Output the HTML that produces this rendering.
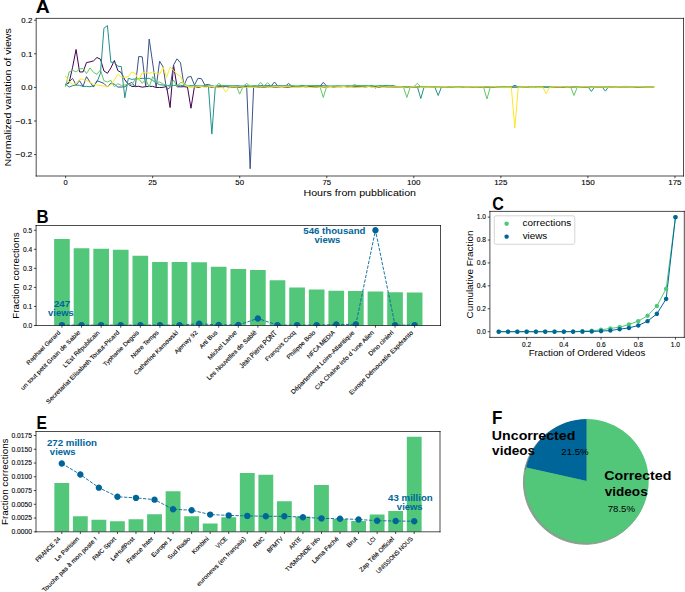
<!DOCTYPE html>
<html><head><meta charset="utf-8"><style>html,body{margin:0;padding:0;background:#fff;}body{width:685px;height:592px;overflow:hidden;}</style></head><body>
<svg width="685" height="592" viewBox="0 0 685 592" style="display:block">
 
 <defs>
  <style type="text/css">*{stroke-linejoin: round; stroke-linecap: butt}</style>
 </defs>
 <g id="figure_1">
  <g id="patch_1">
   <path d="M 0 592 
L 685 592 
L 685 0 
L 0 0 
z
" style="fill: #ffffff"/>
  </g>
  <g id="axes_1">
   <g id="patch_2">
    <path d="M 36.2 176 
L 683.5 176 
L 683.5 18.4 
L 36.2 18.4 
z
" style="fill: #ffffff"/>
   </g>
   <g id="matplotlib.axis_1">
    <g id="xtick_1">
     <g id="line2d_1">
      <defs>
       <path id="m24d7ac94f8" d="M 0 0 
L 0 2.2 
" style="stroke: #000000; stroke-width: 0.7"/>
      </defs>
      <g>
       <use href="#m24d7ac94f8" x="65.622727" y="176" style="stroke: #000000; stroke-width: 0.7"/>
      </g>
     </g>
     <g id="text_1">
      <text transform="translate(65.623 185.271) matrix(1.0412 0 0 1.1165 -2.085 0.028)" style="font-size:7.20px;font-family:'Liberation Sans',sans-serif;fill:#000000;stroke:#000000;stroke-width:0.1">0</text>
     </g>
    </g>
    <g id="xtick_2">
     <g id="line2d_2">
      <g>
       <use href="#m24d7ac94f8" x="152.672216" y="176" style="stroke: #000000; stroke-width: 0.7"/>
      </g>
     </g>
     <g id="text_2">
      <text transform="translate(152.672 185.271) matrix(1.0931 0 0 1.1165 -4.471 0.028)" style="font-size:7.20px;font-family:'Liberation Sans',sans-serif;fill:#000000;stroke:#000000;stroke-width:0.1">25</text>
     </g>
    </g>
    <g id="xtick_3">
     <g id="line2d_3">
      <g>
       <use href="#m24d7ac94f8" x="239.721705" y="176" style="stroke: #000000; stroke-width: 0.7"/>
      </g>
     </g>
     <g id="text_3">
      <text transform="translate(239.722 185.271) matrix(1.0918 0 0 1.1165 -4.355 0.028)" style="font-size:7.20px;font-family:'Liberation Sans',sans-serif;fill:#000000;stroke:#000000;stroke-width:0.1">50</text>
     </g>
    </g>
    <g id="xtick_4">
     <g id="line2d_4">
      <g>
       <use href="#m24d7ac94f8" x="326.771194" y="176" style="stroke: #000000; stroke-width: 0.7"/>
      </g>
     </g>
     <g id="text_4">
      <text transform="translate(326.771 185.271) matrix(1.0833 0 0 1.1175 -4.395 0.028)" style="font-size:7.20px;font-family:'Liberation Sans',sans-serif;fill:#000000;stroke:#000000;stroke-width:0.1">75</text>
     </g>
    </g>
    <g id="xtick_5">
     <g id="line2d_5">
      <g>
       <use href="#m24d7ac94f8" x="413.820683" y="176" style="stroke: #000000; stroke-width: 0.7"/>
      </g>
     </g>
     <g id="text_5">
      <text transform="translate(413.821 185.271) matrix(1.1190 0 0 1.1165 -6.720 0.028)" style="font-size:7.20px;font-family:'Liberation Sans',sans-serif;fill:#000000;stroke:#000000;stroke-width:0.1">100</text>
     </g>
    </g>
    <g id="xtick_6">
     <g id="line2d_6">
      <g>
       <use href="#m24d7ac94f8" x="500.870172" y="176" style="stroke: #000000; stroke-width: 0.7"/>
      </g>
     </g>
     <g id="text_6">
      <text transform="translate(500.870 185.271) matrix(1.1097 0 0 1.1165 -6.715 0.028)" style="font-size:7.20px;font-family:'Liberation Sans',sans-serif;fill:#000000;stroke:#000000;stroke-width:0.1">125</text>
     </g>
    </g>
    <g id="xtick_7">
     <g id="line2d_7">
      <g>
       <use href="#m24d7ac94f8" x="587.919661" y="176" style="stroke: #000000; stroke-width: 0.7"/>
      </g>
     </g>
     <g id="text_7">
      <text transform="translate(587.920 185.271) matrix(1.1190 0 0 1.1165 -6.720 0.028)" style="font-size:7.20px;font-family:'Liberation Sans',sans-serif;fill:#000000;stroke:#000000;stroke-width:0.1">150</text>
     </g>
    </g>
    <g id="xtick_8">
     <g id="line2d_8">
      <g>
       <use href="#m24d7ac94f8" x="674.96915" y="176" style="stroke: #000000; stroke-width: 0.7"/>
      </g>
     </g>
     <g id="text_8">
      <text transform="translate(674.969 185.271) matrix(1.1097 0 0 1.1175 -6.715 0.028)" style="font-size:7.20px;font-family:'Liberation Sans',sans-serif;fill:#000000;stroke:#000000;stroke-width:0.1">175</text>
     </g>
    </g>
    <g id="text_9">
     <text transform="translate(359.850 195.873) matrix(1.1406 0 0 1.0374 -56.367 -0.074)" style="font-size:9.35px;font-family:'Liberation Sans',sans-serif;fill:#000000">Hours from pubblication</text>
    </g>
   </g>
   <g id="matplotlib.axis_2">
    <g id="ytick_1">
     <g id="line2d_9">
      <defs>
       <path id="m9cc13eb9c5" d="M 0 0 
L -2.2 0 
" style="stroke: #000000; stroke-width: 0.7"/>
      </defs>
      <g>
       <use href="#m9cc13eb9c5" x="36.2" y="154.59919" style="stroke: #000000; stroke-width: 0.7"/>
      </g>
     </g>
     <g id="text_10">
      <text transform="translate(32.600 157.335) matrix(1.1804 0 0 1.1165 -17.110 0.028)" style="font-size:7.20px;font-family:'Liberation Sans',sans-serif;fill:#000000;stroke:#000000;stroke-width:0.1">−0.2</text>
     </g>
    </g>
    <g id="ytick_2">
     <g id="line2d_10">
      <g>
       <use href="#m9cc13eb9c5" x="36.2" y="121.002942" style="stroke: #000000; stroke-width: 0.7"/>
      </g>
     </g>
     <g id="text_11">
      <text transform="translate(32.600 123.738) matrix(1.1830 0 0 1.1165 -17.111 0.028)" style="font-size:7.20px;font-family:'Liberation Sans',sans-serif;fill:#000000;stroke:#000000;stroke-width:0.1">−0.1</text>
     </g>
    </g>
    <g id="ytick_3">
     <g id="line2d_11">
      <g>
       <use href="#m9cc13eb9c5" x="36.2" y="87.406694" style="stroke: #000000; stroke-width: 0.7"/>
      </g>
     </g>
     <g id="text_12">
      <text transform="translate(32.600 90.142) matrix(1.1061 0 0 1.1165 -11.262 0.028)" style="font-size:7.20px;font-family:'Liberation Sans',sans-serif;fill:#000000;stroke:#000000;stroke-width:0.1">0.0</text>
     </g>
    </g>
    <g id="ytick_4">
     <g id="line2d_12">
      <g>
       <use href="#m9cc13eb9c5" x="36.2" y="53.810446" style="stroke: #000000; stroke-width: 0.7"/>
      </g>
     </g>
     <g id="text_13">
      <text transform="translate(32.600 56.546) matrix(1.0954 0 0 1.1165 -11.259 0.028)" style="font-size:7.20px;font-family:'Liberation Sans',sans-serif;fill:#000000;stroke:#000000;stroke-width:0.1">0.1</text>
     </g>
    </g>
    <g id="ytick_5">
     <g id="line2d_13">
      <g>
       <use href="#m9cc13eb9c5" x="36.2" y="20.214197" style="stroke: #000000; stroke-width: 0.7"/>
      </g>
     </g>
     <g id="text_14">
      <text transform="translate(32.600 22.950) matrix(1.0916 0 0 1.1165 -11.258 0.028)" style="font-size:7.20px;font-family:'Liberation Sans',sans-serif;fill:#000000;stroke:#000000;stroke-width:0.1">0.2</text>
     </g>
    </g>
    <g id="text_15">
     <text transform="translate(11.172 97.200) rotate(-90) matrix(1.1400 0 0 1.0544 -69.314 0.042)" style="font-size:9.35px;font-family:'Liberation Sans',sans-serif;fill:#000000">Normalized variation of views</text>
    </g>
   </g>
   <g id="line2d_14">
    <path d="M 65.622727 84.718994 
L 69.104707 82.703219 
L 72.586686 67.248945 
L 76.068666 49.442933 
L 79.550646 71.95242 
L 83.032625 71.95242 
L 86.514605 62.54547 
L 89.996584 61.873545 
L 93.478564 60.865658 
L 96.960543 57.506033 
L 100.442523 59.185845 
L 103.924502 70.944532 
L 107.406482 73.296269 
L 110.888462 67.92087 
L 114.370441 60.529695 
L 117.852421 70.60857 
L 121.3344 72.624344 
L 124.81638 79.847538 
L 128.298359 84.21505 
L 131.780339 86.398806 
L 135.262318 86.498594 
L 138.744298 86.273477 
L 142.226278 87.15348 
L 145.708257 86.644297 
L 149.190237 86.396939 
L 152.672216 86.372458 
L 156.154196 87.460388 
L 159.636175 87.522191 
L 163.118155 87.346448 
L 166.600134 86.394583 
L 170.082114 107.564443 
L 173.564094 65.23317 
L 177.046073 86.734769 
L 180.528053 86.858181 
L 184.010032 86.644896 
L 187.492012 87.150669 
L 190.973991 108.236368 
L 194.455971 86.453063 
L 197.937951 87.550098 
L 201.41993 86.566594 
L 204.90191 86.245794 
L 208.383889 86.569253 
L 211.865869 87.1978 
L 215.347848 86.514002 
L 218.829828 87.435955 
L 225.793787 86.518386 
L 229.275767 87.096896 
L 232.757746 87.102389 
L 239.721705 87.354879 
L 243.203685 86.73452 
L 246.685664 87.17402 
L 250.167644 87.123299 
L 253.649623 86.910677 
L 257.131603 87.3229 
L 260.613583 86.833028 
L 264.095562 87.235071 
L 267.577542 86.818741 
L 271.059521 86.714838 
L 274.541501 87.276832 
L 281.50546 86.719879 
L 288.469419 87.326106 
L 291.951399 86.868982 
L 295.433378 86.748669 
L 298.915358 86.888744 
L 302.397337 86.484522 
L 305.879317 86.821328 
L 309.361296 86.523272 
L 312.843276 87.243776 
L 316.325256 87.242081 
L 319.807235 86.613589 
L 323.289215 86.999005 
L 326.771194 87.21755 
L 330.253174 86.500595 
L 333.735153 87.045956 
L 337.217133 86.666812 
L 340.699112 86.690155 
L 344.181092 86.542176 
L 347.663072 86.786412 
L 351.145051 86.66669 
L 354.627031 87.044891 
L 358.10901 87.119178 
L 361.59099 86.530342 
L 365.072969 86.970394 
L 368.554949 86.465477 
L 372.036928 86.749001 
L 375.518908 86.788271 
L 379.000888 87.265156 
L 382.482867 86.479918 
L 385.964847 86.949867 
L 389.446826 86.829009 
L 396.410785 87.079321 
L 399.892765 86.810678 
L 406.856724 87.173722 
L 410.338704 86.926075 
L 413.820683 87.043191 
L 420.784642 86.817708 
L 424.266622 87.030844 
L 427.748601 86.808599 
L 431.230581 86.923569 
L 434.712561 87.168501 
L 438.19454 86.800172 
L 441.67652 86.896341 
L 445.158499 86.772804 
L 448.640479 87.1054 
L 452.122458 87.119593 
L 455.604438 86.798899 
L 459.086417 86.893954 
L 462.568397 87.148271 
L 466.050377 86.870311 
L 476.496315 86.888025 
L 479.978295 87.124779 
L 490.424233 87.163468 
L 493.906213 87.075618 
L 497.388193 86.828155 
L 500.870172 86.957647 
L 507.834131 86.835411 
L 511.316111 87.124818 
L 518.28007 86.938728 
L 521.762049 86.783982 
L 528.726009 87.167362 
L 532.207988 86.852101 
L 535.689968 87.080955 
L 539.171947 86.849491 
L 542.653927 87.018512 
L 546.135906 86.826738 
L 553.099866 86.950629 
L 556.581845 87.119867 
L 567.027784 87.156918 
L 573.991743 87.083884 
L 577.473722 86.887435 
L 580.955702 86.949227 
L 584.437682 87.169818 
L 587.919661 87.145863 
L 591.401641 86.784917 
L 598.3656 87.092921 
L 601.847579 87.073153 
L 605.329559 86.875002 
L 608.811538 87.096091 
L 615.775498 86.783811 
L 619.257477 86.833476 
L 622.739457 87.078184 
L 633.185395 86.840672 
L 636.667375 87.111668 
L 643.631334 87.14665 
L 647.113314 86.978807 
L 654.077273 86.945544 
L 654.077273 86.945544 
" clip-path="url(#p6a6dacb804)" style="fill: none; stroke: #440154; stroke-linecap: square"/>
   </g>
   <g id="line2d_15">
    <path d="M 65.622727 84.718994 
L 69.104707 82.031294 
L 72.586686 78.335707 
L 76.068666 85.054956 
L 79.550646 80.687444 
L 83.032625 86.398806 
L 86.514605 76.655894 
L 89.996584 82.031294 
L 93.478564 87.070731 
L 96.960543 80.687444 
L 103.924502 83.375144 
L 107.406482 87.070731 
L 110.888462 83.039181 
L 114.370441 84.21505 
L 117.852421 87.070731 
L 121.3344 87.070731 
L 124.81638 86.734769 
L 128.298359 84.21505 
L 131.780339 82.367256 
L 135.262318 87.070731 
L 138.744298 56.498145 
L 142.226278 56.834108 
L 145.708257 86.734769 
L 149.190237 39.028096 
L 156.154196 87.070731 
L 159.636175 61.20162 
L 163.118155 66.912982 
L 166.600134 89.758431 
L 170.082114 87.406694 
L 173.564094 64.897207 
L 177.046073 58.849883 
L 180.528053 62.881433 
L 184.010032 85.390919 
L 187.492012 77.327819 
L 190.973991 76.319932 
L 194.455971 85.054956 
L 197.937951 78.335707 
L 201.41993 78.671669 
L 204.90191 85.054956 
L 208.383889 84.383031 
L 211.865869 85.87535 
L 215.347848 86.611654 
L 218.829828 86.308575 
L 222.311807 86.466963 
L 225.793787 86.458308 
L 229.275767 86.138648 
L 232.757746 86.365314 
L 236.239726 85.971973 
L 243.203685 86.791927 
L 246.685664 86.524537 
L 250.167644 168.709614 
L 253.649623 86.486973 
L 257.131603 86.843565 
L 260.613583 86.636635 
L 264.095562 86.805991 
L 267.577542 85.934242 
L 271.059521 85.956134 
L 274.541501 82.031294 
L 278.02348 86.303027 
L 281.50546 86.14956 
L 284.987439 86.709964 
L 288.469419 83.375144 
L 291.951399 86.376167 
L 295.433378 86.533679 
L 298.915358 86.826184 
L 302.397337 85.944306 
L 305.879317 86.453973 
L 309.361296 86.395043 
L 316.325256 86.624813 
L 319.807235 86.505208 
L 323.289215 82.367256 
L 326.771194 86.176099 
L 333.735153 86.856908 
L 337.217133 86.119039 
L 340.699112 86.615741 
L 344.181092 86.321025 
L 347.663072 86.845118 
L 351.145051 86.246224 
L 354.627031 86.504612 
L 358.10901 86.401559 
L 365.072969 86.53909 
L 368.554949 86.350852 
L 372.036928 85.953942 
L 375.518908 86.763066 
L 379.000888 86.574473 
L 382.482867 86.829835 
L 385.964847 86.174545 
L 389.446826 86.250635 
L 392.928806 86.667247 
L 396.410785 86.85568 
L 403.374744 86.757017 
L 406.856724 86.954968 
L 410.338704 86.668254 
L 413.820683 86.710039 
L 417.302663 86.969692 
L 420.784642 86.673388 
L 434.712561 86.934665 
L 438.19454 86.653415 
L 445.158499 86.884109 
L 448.640479 86.917353 
L 452.122458 86.655247 
L 455.604438 86.854478 
L 466.050377 86.69059 
L 473.014336 86.952454 
L 476.496315 86.785328 
L 483.460274 86.802805 
L 486.942254 86.741681 
L 490.424233 86.924596 
L 504.352152 87.019564 
L 507.834131 86.769967 
L 511.316111 86.904696 
L 514.79809 85.390919 
L 518.28007 86.985281 
L 525.244029 86.937049 
L 535.689968 86.802164 
L 542.653927 86.625174 
L 546.135906 87.003995 
L 553.099866 86.764342 
L 556.581845 86.9586 
L 560.063825 86.672893 
L 563.545804 86.93605 
L 567.027784 86.724654 
L 573.991743 86.701622 
L 577.473722 87.011099 
L 580.955702 86.931143 
L 584.437682 86.739622 
L 587.919661 86.988395 
L 591.401641 87.011364 
L 598.3656 86.785923 
L 601.847579 87.002643 
L 608.811538 87.006159 
L 615.775498 86.754217 
L 619.257477 86.943861 
L 622.739457 86.670425 
L 626.221436 86.849377 
L 629.703416 86.773885 
L 633.185395 86.906609 
L 640.149354 86.639224 
L 647.113314 86.940223 
L 654.077273 86.844464 
L 654.077273 86.844464 
" clip-path="url(#p6a6dacb804)" style="fill: none; stroke: #3b528b; stroke-linecap: square"/>
   </g>
   <g id="line2d_16">
    <path d="M 65.622727 84.21505 
L 69.104707 87.070731 
L 72.586686 85.726881 
L 76.068666 85.054956 
L 79.550646 85.390919 
L 83.032625 86.398806 
L 86.514605 86.398806 
L 89.996584 86.734769 
L 93.478564 85.726881 
L 96.960543 82.031294 
L 100.442523 73.296269 
L 103.924502 28.277297 
L 107.406482 25.589597 
L 110.888462 62.209508 
L 114.370441 62.54547 
L 117.852421 66.241057 
L 121.3344 66.57702 
L 124.81638 97.821531 
L 128.298359 78.335707 
L 131.780339 79.343594 
L 142.226278 78.335707 
L 149.190237 78.335707 
L 152.672216 80.351482 
L 156.154196 83.039181 
L 159.636175 84.718994 
L 163.118155 85.054956 
L 166.600134 85.726881 
L 170.082114 85.087215 
L 173.564094 85.495223 
L 177.046073 85.185533 
L 180.528053 85.262244 
L 184.010032 85.890839 
L 187.492012 86.27488 
L 190.973991 85.52072 
L 194.455971 85.649152 
L 201.41993 86.096367 
L 204.90191 85.852504 
L 208.383889 85.768621 
L 211.865869 134.105479 
L 215.347848 86.006681 
L 218.829828 85.783744 
L 222.311807 85.387729 
L 229.275767 85.930553 
L 232.757746 85.935737 
L 236.239726 85.769568 
L 239.721705 86.004 
L 243.203685 86.007793 
L 246.685664 85.713679 
L 250.167644 86.115173 
L 253.649623 85.742322 
L 257.131603 85.856531 
L 260.613583 85.531512 
L 267.577542 85.547121 
L 271.059521 85.54892 
L 274.541501 85.845785 
L 278.02348 85.568718 
L 281.50546 85.877535 
L 284.987439 85.658404 
L 288.469419 85.890744 
L 291.951399 85.778483 
L 295.433378 86.139349 
L 298.915358 85.968945 
L 302.397337 85.283247 
L 305.879317 85.980319 
L 309.361296 85.546759 
L 323.289215 85.63595 
L 326.771194 86.134231 
L 330.253174 86.12897 
L 333.735153 86.010053 
L 344.181092 86.075603 
L 347.663072 85.676763 
L 351.145051 86.020552 
L 354.627031 85.301592 
L 358.10901 85.55604 
L 361.59099 85.688294 
L 365.072969 85.531988 
L 368.554949 85.948992 
L 372.036928 85.325463 
L 375.518908 88.078619 
L 379.000888 85.513984 
L 382.482867 85.745469 
L 385.964847 85.405067 
L 392.928806 85.576063 
L 396.410785 86.453645 
L 403.374744 86.674588 
L 406.856724 86.599237 
L 410.338704 86.742947 
L 413.820683 86.744684 
L 417.302663 86.529562 
L 420.784642 98.493456 
L 424.266622 86.430213 
L 431.230581 86.602966 
L 434.712561 86.785919 
L 438.19454 95.469793 
L 441.67652 86.448017 
L 462.568397 86.792437 
L 466.050377 86.462346 
L 473.014336 86.764334 
L 476.496315 86.655162 
L 479.978295 86.80232 
L 483.460274 86.737709 
L 486.942254 86.52753 
L 500.870172 86.559172 
L 504.352152 86.436522 
L 511.316111 86.793845 
L 518.28007 86.788709 
L 521.762049 86.435208 
L 525.244029 86.604109 
L 528.726009 86.484492 
L 532.207988 86.753569 
L 535.689968 86.71716 
L 542.653927 86.461065 
L 546.135906 86.684769 
L 549.617886 86.796046 
L 553.099866 86.473745 
L 556.581845 86.704852 
L 560.063825 86.523348 
L 563.545804 86.758407 
L 567.027784 86.541941 
L 573.991743 86.528964 
L 577.473722 86.677343 
L 580.955702 86.52915 
L 584.437682 86.765892 
L 587.919661 86.695601 
L 591.401641 91.438243 
L 594.88362 86.468467 
L 598.3656 86.760138 
L 601.847579 86.467292 
L 605.329559 91.102281 
L 608.811538 86.430404 
L 612.293518 86.673878 
L 619.257477 86.725132 
L 622.739457 86.488362 
L 626.221436 86.432982 
L 636.667375 86.706393 
L 640.149354 86.486014 
L 643.631334 86.470495 
L 647.113314 86.784976 
L 650.595293 86.735058 
L 654.077273 86.48679 
L 654.077273 86.48679 
" clip-path="url(#p6a6dacb804)" style="fill: none; stroke: #21918c; stroke-linecap: square"/>
   </g>
   <g id="line2d_17">
    <path d="M 65.622727 86.398806 
L 69.104707 71.95242 
L 72.586686 70.272607 
L 76.068666 71.95242 
L 79.550646 68.928757 
L 83.032625 68.592795 
L 86.514605 73.632232 
L 89.996584 67.92087 
L 93.478564 72.288382 
L 96.960543 74.304157 
L 100.442523 69.936645 
L 103.924502 80.687444 
L 107.406482 82.031294 
L 110.888462 80.351482 
L 114.370441 86.734769 
L 117.852421 83.711106 
L 121.3344 85.390919 
L 124.81638 85.054956 
L 128.298359 84.21505 
L 131.780339 85.054956 
L 135.262318 79.007632 
L 138.744298 78.671669 
L 142.226278 83.375144 
L 145.708257 79.343594 
L 149.190237 87.070731 
L 152.672216 76.655894 
L 156.154196 82.367256 
L 159.636175 82.031294 
L 163.118155 84.047069 
L 166.600134 85.054956 
L 170.082114 87.070731 
L 173.564094 80.015519 
L 177.046073 86.734769 
L 180.528053 82.367256 
L 184.010032 83.375144 
L 187.492012 86.002098 
L 190.973991 86.030048 
L 194.455971 85.877916 
L 197.937951 86.195219 
L 201.41993 85.861528 
L 204.90191 86.201395 
L 208.383889 85.896319 
L 211.865869 85.703492 
L 215.347848 86.494255 
L 218.829828 83.375144 
L 222.311807 86.060461 
L 225.793787 85.887247 
L 229.275767 86.294556 
L 232.757746 86.011349 
L 236.239726 85.945322 
L 239.721705 94.125943 
L 243.203685 86.191857 
L 246.685664 83.375144 
L 250.167644 86.353099 
L 253.649623 86.064919 
L 257.131603 86.361566 
L 260.613583 82.367256 
L 264.095562 86.126978 
L 267.577542 82.703219 
L 271.059521 86.141132 
L 274.541501 85.682175 
L 278.02348 86.152374 
L 281.50546 86.221657 
L 288.469419 85.737887 
L 291.951399 85.723239 
L 295.433378 85.97283 
L 298.915358 86.45355 
L 302.397337 85.971346 
L 305.879317 86.302294 
L 309.361296 85.844044 
L 312.843276 85.691597 
L 316.325256 86.048984 
L 319.807235 85.965422 
L 323.289215 97.485568 
L 326.771194 86.025146 
L 330.253174 86.411666 
L 333.735153 85.955075 
L 337.217133 86.191107 
L 340.699112 85.810965 
L 344.181092 86.487535 
L 347.663072 86.429886 
L 351.145051 85.889734 
L 354.627031 84.718994 
L 358.10901 85.995451 
L 361.59099 85.73952 
L 365.072969 86.074379 
L 368.554949 85.771092 
L 372.036928 86.053208 
L 375.518908 85.66143 
L 379.000888 85.905816 
L 382.482867 86.393285 
L 385.964847 86.190258 
L 389.446826 85.718761 
L 392.928806 86.20368 
L 396.410785 86.846701 
L 399.892765 86.732368 
L 403.374744 86.764556 
L 406.856724 97.485568 
L 410.338704 86.746823 
L 413.820683 86.817716 
L 417.302663 83.375144 
L 420.784642 86.753972 
L 424.266622 86.559092 
L 427.748601 86.527971 
L 434.712561 86.889372 
L 438.19454 86.627396 
L 448.640479 86.782831 
L 452.122458 86.89917 
L 455.604438 86.676249 
L 459.086417 86.872911 
L 462.568397 86.6167 
L 466.050377 86.602632 
L 469.532356 86.758168 
L 473.014336 86.542411 
L 476.496315 86.852848 
L 479.978295 86.5429 
L 483.460274 86.735243 
L 486.942254 98.997399 
L 490.424233 86.619404 
L 497.388193 86.530526 
L 500.870172 86.906745 
L 504.352152 86.916469 
L 507.834131 86.703878 
L 511.316111 86.90925 
L 514.79809 86.657839 
L 528.726009 86.813059 
L 532.207988 86.540044 
L 535.689968 86.629302 
L 539.171947 86.920358 
L 542.653927 86.882863 
L 546.135906 86.668238 
L 549.617886 86.806784 
L 556.581845 86.60783 
L 560.063825 86.780132 
L 563.545804 86.549663 
L 570.509763 86.700396 
L 573.991743 95.469793 
L 577.473722 86.757779 
L 584.437682 86.523463 
L 587.919661 86.893214 
L 591.401641 86.868582 
L 594.88362 86.624555 
L 598.3656 86.586765 
L 601.847579 86.887118 
L 605.329559 86.588524 
L 612.293518 86.645448 
L 615.775498 86.785865 
L 626.221436 86.58407 
L 629.703416 86.790543 
L 633.185395 86.79286 
L 636.667375 86.545841 
L 647.113314 86.59734 
L 650.595293 86.887867 
L 654.077273 86.886257 
L 654.077273 86.886257 
" clip-path="url(#p6a6dacb804)" style="fill: none; stroke: #5ec962; stroke-linecap: square"/>
   </g>
   <g id="line2d_18">
    <path d="M 65.622727 76.319932 
L 69.104707 81.695331 
L 72.586686 84.21505 
L 76.068666 83.711106 
L 79.550646 79.343594 
L 83.032625 79.007632 
L 89.996584 82.367256 
L 93.478564 84.21505 
L 96.960543 85.054956 
L 107.406482 86.398806 
L 110.888462 85.054956 
L 114.370441 80.015519 
L 117.852421 74.304157 
L 121.3344 76.991857 
L 124.81638 77.327819 
L 128.298359 76.655894 
L 131.780339 71.95242 
L 135.262318 73.296269 
L 138.744298 80.351482 
L 142.226278 72.960307 
L 145.708257 72.624344 
L 149.190237 73.296269 
L 152.672216 71.95242 
L 156.154196 73.296269 
L 159.636175 74.304157 
L 163.118155 67.248945 
L 166.600134 77.327819 
L 170.082114 67.248945 
L 173.564094 70.272607 
L 177.046073 74.304157 
L 180.528053 76.319932 
L 184.010032 84.718994 
L 187.492012 86.398806 
L 190.973991 87.740449 
L 194.455971 87.049938 
L 197.937951 86.882867 
L 201.41993 86.418125 
L 204.90191 87.394468 
L 208.383889 86.664221 
L 215.347848 86.502619 
L 218.829828 87.739681 
L 222.311807 87.099433 
L 225.793787 92.110168 
L 229.275767 87.165793 
L 232.757746 86.775605 
L 236.239726 87.02703 
L 239.721705 86.81594 
L 243.203685 87.084906 
L 246.685664 87.513694 
L 257.131603 87.304734 
L 260.613583 86.633388 
L 264.095562 86.94678 
L 267.577542 86.772851 
L 271.059521 87.008568 
L 278.02348 86.777326 
L 281.50546 86.669353 
L 288.469419 86.765183 
L 291.951399 87.452463 
L 295.433378 87.201442 
L 298.915358 87.507675 
L 302.397337 87.027122 
L 305.879317 86.792151 
L 309.361296 87.492969 
L 316.325256 87.197276 
L 319.807235 87.311275 
L 323.289215 86.793144 
L 326.771194 87.209865 
L 330.253174 86.94009 
L 333.735153 87.076926 
L 337.217133 86.992183 
L 340.699112 86.657485 
L 344.181092 86.653495 
L 347.663072 87.43601 
L 351.145051 86.747551 
L 354.627031 87.215572 
L 358.10901 87.446231 
L 361.59099 87.180408 
L 365.072969 87.06099 
L 368.554949 86.636974 
L 372.036928 87.191599 
L 375.518908 87.529443 
L 379.000888 86.732357 
L 382.482867 87.436557 
L 389.446826 86.741507 
L 392.928806 87.056867 
L 396.410785 87.045222 
L 399.892765 86.902558 
L 403.374744 87.217053 
L 406.856724 86.99442 
L 410.338704 87.059423 
L 413.820683 86.828111 
L 417.302663 86.902185 
L 420.784642 87.203519 
L 434.712561 87.091407 
L 438.19454 87.080145 
L 441.67652 86.853778 
L 445.158499 86.840813 
L 448.640479 87.060913 
L 452.122458 86.86301 
L 455.604438 87.092131 
L 459.086417 87.191917 
L 462.568397 87.012925 
L 473.014336 86.836166 
L 479.978295 86.919239 
L 490.424233 86.91592 
L 493.906213 86.83246 
L 497.388193 87.074609 
L 500.870172 87.19179 
L 511.316111 87.078687 
L 514.79809 128.058154 
L 518.28007 87.201046 
L 525.244029 86.89744 
L 528.726009 87.118745 
L 532.207988 87.199714 
L 535.689968 87.127667 
L 539.171947 87.190977 
L 542.653927 86.899614 
L 546.135906 93.789981 
L 549.617886 87.14652 
L 553.099866 86.896847 
L 563.545804 86.856494 
L 567.027784 87.201157 
L 570.509763 86.836231 
L 577.473722 87.103312 
L 580.955702 86.892387 
L 584.437682 86.959427 
L 587.919661 86.827561 
L 591.401641 87.181939 
L 594.88362 86.991074 
L 598.3656 87.034651 
L 601.847579 86.962308 
L 608.811538 87.212724 
L 612.293518 87.005864 
L 615.775498 87.078239 
L 619.257477 86.865525 
L 622.739457 87.040086 
L 633.185395 87.012739 
L 636.667375 86.837757 
L 647.113314 87.140151 
L 654.077273 86.923482 
L 654.077273 86.923482 
" clip-path="url(#p6a6dacb804)" style="fill: none; stroke: #fde725; stroke-linecap: square"/>
   </g>
   <g id="patch_3">
    <path d="M 36.2 176 
L 36.2 18.4 
" style="fill: none; stroke: #000000; stroke-width: 0.7; stroke-linejoin: miter; stroke-linecap: square"/>
   </g>
   <g id="patch_4">
    <path d="M 683.5 176 
L 683.5 18.4 
" style="fill: none; stroke: #000000; stroke-width: 0.7; stroke-linejoin: miter; stroke-linecap: square"/>
   </g>
   <g id="patch_5">
    <path d="M 36.2 176 
L 683.5 176 
" style="fill: none; stroke: #000000; stroke-width: 0.7; stroke-linejoin: miter; stroke-linecap: square"/>
   </g>
   <g id="patch_6">
    <path d="M 36.2 18.4 
L 683.5 18.4 
" style="fill: none; stroke: #000000; stroke-width: 0.7; stroke-linejoin: miter; stroke-linecap: square"/>
   </g>
  </g>
  <g id="axes_2">
   <g id="patch_7">
    <path d="M 36.1 325.5 
L 440.5 325.5 
L 440.5 225.5 
L 36.1 225.5 
z
" style="fill: #ffffff"/>
   </g>
   <g id="patch_8">
    <path d="M 54.125581 325.5 
L 69.8 325.5 
L 69.8 239.02381 
L 54.125581 239.02381 
z
" clip-path="url(#pe976f0630a)" style="fill: #52c77a"/>
   </g>
   <g id="patch_9">
    <path d="M 73.718605 325.5 
L 89.393023 325.5 
L 89.393023 248.357143 
L 73.718605 248.357143 
z
" clip-path="url(#pe976f0630a)" style="fill: #52c77a"/>
   </g>
   <g id="patch_10">
    <path d="M 93.311628 325.5 
L 108.986047 325.5 
L 108.986047 248.738095 
L 93.311628 248.738095 
z
" clip-path="url(#pe976f0630a)" style="fill: #52c77a"/>
   </g>
   <g id="patch_11">
    <path d="M 112.904651 325.5 
L 128.57907 325.5 
L 128.57907 249.690476 
L 112.904651 249.690476 
z
" clip-path="url(#pe976f0630a)" style="fill: #52c77a"/>
   </g>
   <g id="patch_12">
    <path d="M 132.497674 325.5 
L 148.172093 325.5 
L 148.172093 255.785714 
L 132.497674 255.785714 
z
" clip-path="url(#pe976f0630a)" style="fill: #52c77a"/>
   </g>
   <g id="patch_13">
    <path d="M 152.090698 325.5 
L 167.765116 325.5 
L 167.765116 261.880952 
L 152.090698 261.880952 
z
" clip-path="url(#pe976f0630a)" style="fill: #52c77a"/>
   </g>
   <g id="patch_14">
    <path d="M 171.683721 325.5 
L 187.35814 325.5 
L 187.35814 261.880952 
L 171.683721 261.880952 
z
" clip-path="url(#pe976f0630a)" style="fill: #52c77a"/>
   </g>
   <g id="patch_15">
    <path d="M 191.276744 325.5 
L 206.951163 325.5 
L 206.951163 262.261905 
L 191.276744 262.261905 
z
" clip-path="url(#pe976f0630a)" style="fill: #52c77a"/>
   </g>
   <g id="patch_16">
    <path d="M 210.869767 325.5 
L 226.544186 325.5 
L 226.544186 266.833333 
L 210.869767 266.833333 
z
" clip-path="url(#pe976f0630a)" style="fill: #52c77a"/>
   </g>
   <g id="patch_17">
    <path d="M 230.462791 325.5 
L 246.137209 325.5 
L 246.137209 269.119048 
L 230.462791 269.119048 
z
" clip-path="url(#pe976f0630a)" style="fill: #52c77a"/>
   </g>
   <g id="patch_18">
    <path d="M 250.055814 325.5 
L 265.730233 325.5 
L 265.730233 270.071429 
L 250.055814 270.071429 
z
" clip-path="url(#pe976f0630a)" style="fill: #52c77a"/>
   </g>
   <g id="patch_19">
    <path d="M 269.648837 325.5 
L 285.323256 325.5 
L 285.323256 280.166667 
L 269.648837 280.166667 
z
" clip-path="url(#pe976f0630a)" style="fill: #52c77a"/>
   </g>
   <g id="patch_20">
    <path d="M 289.24186 325.5 
L 304.916279 325.5 
L 304.916279 287.404762 
L 289.24186 287.404762 
z
" clip-path="url(#pe976f0630a)" style="fill: #52c77a"/>
   </g>
   <g id="patch_21">
    <path d="M 308.834884 325.5 
L 324.509302 325.5 
L 324.509302 289.5 
L 308.834884 289.5 
z
" clip-path="url(#pe976f0630a)" style="fill: #52c77a"/>
   </g>
   <g id="patch_22">
    <path d="M 328.427907 325.5 
L 344.102326 325.5 
L 344.102326 290.833333 
L 328.427907 290.833333 
z
" clip-path="url(#pe976f0630a)" style="fill: #52c77a"/>
   </g>
   <g id="patch_23">
    <path d="M 348.02093 325.5 
L 363.695349 325.5 
L 363.695349 291.02381 
L 348.02093 291.02381 
z
" clip-path="url(#pe976f0630a)" style="fill: #52c77a"/>
   </g>
   <g id="patch_24">
    <path d="M 367.613953 325.5 
L 383.288372 325.5 
L 383.288372 291.595238 
L 367.613953 291.595238 
z
" clip-path="url(#pe976f0630a)" style="fill: #52c77a"/>
   </g>
   <g id="patch_25">
    <path d="M 387.206977 325.5 
L 402.881395 325.5 
L 402.881395 292.357143 
L 387.206977 292.357143 
z
" clip-path="url(#pe976f0630a)" style="fill: #52c77a"/>
   </g>
   <g id="patch_26">
    <path d="M 406.8 325.5 
L 422.474419 325.5 
L 422.474419 292.547619 
L 406.8 292.547619 
z
" clip-path="url(#pe976f0630a)" style="fill: #52c77a"/>
   </g>
   <g id="matplotlib.axis_3">
    <g id="xtick_9">
     <g id="line2d_19">
      <g>
       <use href="#m24d7ac94f8" x="61.962791" y="325.5" style="stroke: #000000; stroke-width: 0.7"/>
      </g>
     </g>
     <g id="text_16">
      <text transform="translate(28.754499 365.191164) rotate(-45) matrix(1.0946 0 0 1.0374 0.043 -0.046)" style="font-size:5.85px;font-family:'Liberation Sans',sans-serif;fill:#000000;stroke:#000000;stroke-width:0.1">Raphael Gerard</text>
     </g>
    </g>
    <g id="xtick_10">
     <g id="line2d_20">
      <g>
       <use href="#m24d7ac94f8" x="81.555814" y="325.5" style="stroke: #000000; stroke-width: 0.7"/>
      </g>
     </g>
     <g id="text_17">
      <text transform="translate(23.054953 390.483733) rotate(-45) matrix(1.1429 0 0 1.0374 0.096 -0.046)" style="font-size:5.85px;font-family:'Liberation Sans',sans-serif;fill:#000000;stroke:#000000;stroke-width:0.1">un tout petit Grain de Sable</text>
     </g>
    </g>
    <g id="xtick_11">
     <g id="line2d_21">
      <g>
       <use href="#m24d7ac94f8" x="101.148837" y="325.5" style="stroke: #000000; stroke-width: 0.7"/>
      </g>
     </g>
     <g id="text_18">
      <text transform="translate(65.156113 368.141059) rotate(-45) matrix(1.1006 0 0 1.0688 0.041 -0.085)" style="font-size:5.85px;font-family:'Liberation Sans',sans-serif;fill:#000000;stroke:#000000;stroke-width:0.1">L'Est Républicain</text>
     </g>
    </g>
    <g id="xtick_12">
     <g id="line2d_22">
      <g>
       <use href="#m24d7ac94f8" x="120.74186" y="325.5" style="stroke: #000000; stroke-width: 0.7"/>
      </g>
     </g>
     <g id="text_19">
      <text transform="translate(48.526962 404.197771) rotate(-45) matrix(1.1191 0 0 1.0544 0.086 0.026)" style="font-size:5.85px;font-family:'Liberation Sans',sans-serif;fill:#000000;stroke:#000000;stroke-width:0.1">Secretariat Elisabeth Toutut-Picard</text>
     </g>
    </g>
    <g id="xtick_13">
     <g id="line2d_23">
      <g>
       <use href="#m24d7ac94f8" x="140.334884" y="325.5" style="stroke: #000000; stroke-width: 0.7"/>
      </g>
     </g>
     <g id="text_20">
      <text transform="translate(105.54112 366.776636) rotate(-45) matrix(1.1041 0 0 1.0374 -0.158 -0.046)" style="font-size:5.85px;font-family:'Liberation Sans',sans-serif;fill:#000000;stroke:#000000;stroke-width:0.1">Typhanie Degois</text>
     </g>
    </g>
    <g id="xtick_14">
     <g id="line2d_24">
      <g>
       <use href="#m24d7ac94f8" x="159.927907" y="325.5" style="stroke: #000000; stroke-width: 0.7"/>
      </g>
     </g>
     <g id="text_21">
      <text transform="translate(133.173964 358.736815) rotate(-45) matrix(1.1057 0 0 1.0444 0.038 -0.055)" style="font-size:5.85px;font-family:'Liberation Sans',sans-serif;fill:#000000;stroke:#000000;stroke-width:0.1">Notre Temps</text>
     </g>
    </g>
    <g id="xtick_15">
     <g id="line2d_25">
      <g>
       <use href="#m24d7ac94f8" x="179.52093" y="325.5" style="stroke: #000000; stroke-width: 0.7"/>
      </g>
     </g>
     <g id="text_22">
      <text transform="translate(136.299542 375.20426) rotate(-45) matrix(1.1149 0 0 1.0544 -0.004 0.026)" style="font-size:5.85px;font-family:'Liberation Sans',sans-serif;fill:#000000;stroke:#000000;stroke-width:0.1">Catherine Kamowski</text>
     </g>
    </g>
    <g id="xtick_16">
     <g id="line2d_26">
      <g>
       <use href="#m24d7ac94f8" x="199.113953" y="325.5" style="stroke: #000000; stroke-width: 0.7"/>
      </g>
     </g>
     <g id="text_23">
      <text transform="translate(176.698243 354.398582) rotate(-45) matrix(1.1183 0 0 1.0374 0.026 -0.046)" style="font-size:5.85px;font-family:'Liberation Sans',sans-serif;fill:#000000;stroke:#000000;stroke-width:0.1">Ajenwy 92</text>
     </g>
    </g>
    <g id="xtick_17">
     <g id="line2d_27">
      <g>
       <use href="#m24d7ac94f8" x="218.706977" y="325.5" style="stroke: #000000; stroke-width: 0.7"/>
      </g>
     </g>
     <g id="text_24">
      <text transform="translate(201.61646 349.073389) rotate(-45) matrix(1.1185 0 0 1.0544 0.026 0.026)" style="font-size:5.85px;font-family:'Liberation Sans',sans-serif;fill:#000000;stroke:#000000;stroke-width:0.1">Arti Bus</text>
     </g>
    </g>
    <g id="xtick_18">
     <g id="line2d_28">
      <g>
       <use href="#m24d7ac94f8" x="238.3" y="325.5" style="stroke: #000000; stroke-width: 0.7"/>
      </g>
     </g>
     <g id="text_25">
      <text transform="translate(210.133158 360.149714) rotate(-45) matrix(1.1187 0 0 1.0544 0.032 0.026)" style="font-size:5.85px;font-family:'Liberation Sans',sans-serif;fill:#000000;stroke:#000000;stroke-width:0.1">Michel Larive</text>
     </g>
    </g>
    <g id="xtick_19">
     <g id="line2d_29">
      <g>
       <use href="#m24d7ac94f8" x="257.893023" y="325.5" style="stroke: #000000; stroke-width: 0.7"/>
      </g>
     </g>
     <g id="text_26">
      <text transform="translate(209.26371 380.612185) rotate(-45) matrix(1.0977 0 0 1.0940 0.042 0.024)" style="font-size:5.85px;font-family:'Liberation Sans',sans-serif;fill:#000000;stroke:#000000;stroke-width:0.1">Les Nouvelles de Sablé</text>
     </g>
    </g>
    <g id="xtick_20">
     <g id="line2d_30">
      <g>
       <use href="#m24d7ac94f8" x="277.486047" y="325.5" style="stroke: #000000; stroke-width: 0.7"/>
      </g>
     </g>
     <g id="text_27">
      <text transform="translate(241.826187 367.642731) rotate(-45) matrix(1.0418 0 0 1.3061 -0.413 1.094)" style="font-size:5.85px;font-family:'Liberation Sans',sans-serif;fill:#000000;stroke:#000000;stroke-width:0.1">Jean Pierre PONT</text>
     </g>
    </g>
    <g id="xtick_21">
     <g id="line2d_31">
      <g>
       <use href="#m24d7ac94f8" x="297.07907" y="325.5" style="stroke: #000000; stroke-width: 0.7"/>
      </g>
     </g>
     <g id="text_28">
      <text transform="translate(267.53811 361.523832) rotate(-45) matrix(1.0706 0 0 1.0374 0.055 -0.046)" style="font-size:5.85px;font-family:'Liberation Sans',sans-serif;fill:#000000;stroke:#000000;stroke-width:0.1">François Cocq</text>
     </g>
    </g>
    <g id="xtick_22">
     <g id="line2d_32">
      <g>
       <use href="#m24d7ac94f8" x="316.672093" y="325.5" style="stroke: #000000; stroke-width: 0.7"/>
      </g>
     </g>
     <g id="text_29">
      <text transform="translate(289.086957 359.568008) rotate(-45) matrix(1.1050 0 0 1.0374 0.039 -0.046)" style="font-size:5.85px;font-family:'Liberation Sans',sans-serif;fill:#000000;stroke:#000000;stroke-width:0.1">Philippe Bolo</text>
     </g>
    </g>
    <g id="xtick_23">
     <g id="line2d_33">
      <g>
       <use href="#m24d7ac94f8" x="336.265116" y="325.5" style="stroke: #000000; stroke-width: 0.7"/>
      </g>
     </g>
     <g id="text_30">
      <text transform="translate(309.480149 358.767839) rotate(-45) matrix(1.0224 0 0 1.0634 0.077 0.026)" style="font-size:5.85px;font-family:'Liberation Sans',sans-serif;fill:#000000;stroke:#000000;stroke-width:0.1">NFCA MEDIA</text>
     </g>
    </g>
    <g id="xtick_24">
     <g id="line2d_34">
      <g>
       <use href="#m24d7ac94f8" x="355.85814" y="325.5" style="stroke: #000000; stroke-width: 0.7"/>
      </g>
     </g>
     <g id="text_31">
      <text transform="translate(293.393277 394.613198) rotate(-45) matrix(1.1399 0 0 1.0688 0.022 -0.085)" style="font-size:5.85px;font-family:'Liberation Sans',sans-serif;fill:#000000;stroke:#000000;stroke-width:0.1">Département Loire-Atlantique</text>
     </g>
    </g>
    <g id="xtick_25">
     <g id="line2d_35">
      <g>
       <use href="#m24d7ac94f8" x="375.451163" y="325.5" style="stroke: #000000; stroke-width: 0.7"/>
      </g>
     </g>
     <g id="text_32">
      <text transform="translate(317.113826 390.320209) rotate(-45) matrix(1.1224 0 0 1.0544 -0.007 0.026)" style="font-size:5.85px;font-family:'Liberation Sans',sans-serif;fill:#000000;stroke:#000000;stroke-width:0.1">CIA Chaine info d 'une Alien</text>
     </g>
    </g>
    <g id="xtick_26">
     <g id="line2d_36">
      <g>
       <use href="#m24d7ac94f8" x="395.044186" y="325.5" style="stroke: #000000; stroke-width: 0.7"/>
      </g>
     </g>
     <g id="text_33">
      <text transform="translate(370.792871 356.234187) rotate(-45) matrix(1.1385 0 0 1.0544 0.023 0.026)" style="font-size:5.85px;font-family:'Liberation Sans',sans-serif;fill:#000000;stroke:#000000;stroke-width:0.1">Dino cinieri</text>
     </g>
    </g>
    <g id="xtick_27">
     <g id="line2d_37">
      <g>
       <use href="#m24d7ac94f8" x="414.637209" y="325.5" style="stroke: #000000; stroke-width: 0.7"/>
      </g>
     </g>
     <g id="text_34">
      <text transform="translate(351.535702 395.249843) rotate(-45) matrix(1.1178 0 0 1.0688 0.033 -0.085)" style="font-size:5.85px;font-family:'Liberation Sans',sans-serif;fill:#000000;stroke:#000000;stroke-width:0.1">Europe Démocratie Espéranto</text>
     </g>
    </g>
   </g>
   <g id="matplotlib.axis_4">
    <g id="ytick_6">
     <g id="line2d_38">
      <g>
       <use href="#m9cc13eb9c5" x="36.1" y="325.5" style="stroke: #000000; stroke-width: 0.7"/>
      </g>
     </g>
     <g id="text_35">
      <text transform="translate(32.400 327.780) matrix(1.1061 0 0 1.0634 -9.385 0.026)" style="font-size:6.00px;font-family:'Liberation Sans',sans-serif;fill:#000000;stroke:#000000;stroke-width:0.1">0.0</text>
     </g>
    </g>
    <g id="ytick_7">
     <g id="line2d_39">
      <g>
       <use href="#m9cc13eb9c5" x="36.1" y="306.452381" style="stroke: #000000; stroke-width: 0.7"/>
      </g>
     </g>
     <g id="text_36">
      <text transform="translate(32.400 308.732) matrix(1.0954 0 0 1.0634 -9.382 0.026)" style="font-size:6.00px;font-family:'Liberation Sans',sans-serif;fill:#000000;stroke:#000000;stroke-width:0.1">0.1</text>
     </g>
    </g>
    <g id="ytick_8">
     <g id="line2d_40">
      <g>
       <use href="#m9cc13eb9c5" x="36.1" y="287.404762" style="stroke: #000000; stroke-width: 0.7"/>
      </g>
     </g>
     <g id="text_37">
      <text transform="translate(32.400 289.684) matrix(1.0916 0 0 1.0634 -9.382 0.026)" style="font-size:6.00px;font-family:'Liberation Sans',sans-serif;fill:#000000;stroke:#000000;stroke-width:0.1">0.2</text>
     </g>
    </g>
    <g id="ytick_9">
     <g id="line2d_41">
      <g>
       <use href="#m9cc13eb9c5" x="36.1" y="268.357143" style="stroke: #000000; stroke-width: 0.7"/>
      </g>
     </g>
     <g id="text_38">
      <text transform="translate(32.400 270.637) matrix(1.1027 0 0 1.0634 -9.384 0.026)" style="font-size:6.00px;font-family:'Liberation Sans',sans-serif;fill:#000000;stroke:#000000;stroke-width:0.1">0.3</text>
     </g>
    </g>
    <g id="ytick_10">
     <g id="line2d_42">
      <g>
       <use href="#m9cc13eb9c5" x="36.1" y="249.309524" style="stroke: #000000; stroke-width: 0.7"/>
      </g>
     </g>
     <g id="text_39">
      <text transform="translate(32.400 251.589) matrix(1.1053 0 0 1.0634 -9.384 0.026)" style="font-size:6.00px;font-family:'Liberation Sans',sans-serif;fill:#000000;stroke:#000000;stroke-width:0.1">0.4</text>
     </g>
    </g>
    <g id="ytick_11">
     <g id="line2d_43">
      <g>
       <use href="#m9cc13eb9c5" x="36.1" y="230.261905" style="stroke: #000000; stroke-width: 0.7"/>
      </g>
     </g>
     <g id="text_40">
      <text transform="translate(32.400 232.541) matrix(1.0951 0 0 1.0634 -9.382 0.026)" style="font-size:6.00px;font-family:'Liberation Sans',sans-serif;fill:#000000;stroke:#000000;stroke-width:0.1">0.5</text>
     </g>
    </g>
    <g id="text_41">
     <text transform="translate(19.028 275.500) rotate(-90) matrix(1.1212 0 0 1.0544 -43.319 0.039)" style="font-size:8.80px;font-family:'Liberation Sans',sans-serif;fill:#000000">Fraction corrections</text>
    </g>
   </g>
   <g id="line2d_44">
    <path d="M 61.962791 325.119048 
L 81.555814 325.119048 
L 101.148837 325.119048 
L 120.74186 325.119048 
L 140.334884 325.119048 
L 159.927907 325.119048 
L 179.52093 325.119048 
L 199.113953 323.785714 
L 218.706977 324.928571 
L 238.3 324.928571 
L 257.893023 318.452381 
L 277.486047 325.119048 
L 297.07907 325.119048 
L 316.672093 325.119048 
L 336.265116 324.547619 
L 355.85814 324.357143 
L 375.451163 230.261905 
L 395.044186 325.119048 
L 414.637209 325.119048 
" clip-path="url(#pe976f0630a)" style="fill: none; stroke-dasharray: 3.33,1.44; stroke-dashoffset: 0; stroke: #006699; stroke-width: 0.9"/>
    <defs>
     <path id="m9df8ff04ab" d="M 0 3.2 
C 0.84865 3.2 1.662656 2.862828 2.262742 2.262742 
C 2.862828 1.662656 3.2 0.84865 3.2 0 
C 3.2 -0.84865 2.862828 -1.662656 2.262742 -2.262742 
C 1.662656 -2.862828 0.84865 -3.2 0 -3.2 
C -0.84865 -3.2 -1.662656 -2.862828 -2.262742 -2.262742 
C -2.862828 -1.662656 -3.2 -0.84865 -3.2 0 
C -3.2 0.84865 -2.862828 1.662656 -2.262742 2.262742 
C -1.662656 2.862828 -0.84865 3.2 0 3.2 
z
"/>
    </defs>
    <g clip-path="url(#pe976f0630a)">
     <use href="#m9df8ff04ab" x="61.962791" y="325.119048" style="fill: #006699"/>
     <use href="#m9df8ff04ab" x="81.555814" y="325.119048" style="fill: #006699"/>
     <use href="#m9df8ff04ab" x="101.148837" y="325.119048" style="fill: #006699"/>
     <use href="#m9df8ff04ab" x="120.74186" y="325.119048" style="fill: #006699"/>
     <use href="#m9df8ff04ab" x="140.334884" y="325.119048" style="fill: #006699"/>
     <use href="#m9df8ff04ab" x="159.927907" y="325.119048" style="fill: #006699"/>
     <use href="#m9df8ff04ab" x="179.52093" y="325.119048" style="fill: #006699"/>
     <use href="#m9df8ff04ab" x="199.113953" y="323.785714" style="fill: #006699"/>
     <use href="#m9df8ff04ab" x="218.706977" y="324.928571" style="fill: #006699"/>
     <use href="#m9df8ff04ab" x="238.3" y="324.928571" style="fill: #006699"/>
     <use href="#m9df8ff04ab" x="257.893023" y="318.452381" style="fill: #006699"/>
     <use href="#m9df8ff04ab" x="277.486047" y="325.119048" style="fill: #006699"/>
     <use href="#m9df8ff04ab" x="297.07907" y="325.119048" style="fill: #006699"/>
     <use href="#m9df8ff04ab" x="316.672093" y="325.119048" style="fill: #006699"/>
     <use href="#m9df8ff04ab" x="336.265116" y="324.547619" style="fill: #006699"/>
     <use href="#m9df8ff04ab" x="355.85814" y="324.357143" style="fill: #006699"/>
     <use href="#m9df8ff04ab" x="375.451163" y="230.261905" style="fill: #006699"/>
     <use href="#m9df8ff04ab" x="395.044186" y="325.119048" style="fill: #006699"/>
     <use href="#m9df8ff04ab" x="414.637209" y="325.119048" style="fill: #006699"/>
    </g>
   </g>
   <g id="patch_27">
    <path d="M 36.1 325.5 
L 36.1 225.5 
" style="fill: none; stroke: #000000; stroke-width: 0.7; stroke-linejoin: miter; stroke-linecap: square"/>
   </g>
   <g id="patch_28">
    <path d="M 440.5 325.5 
L 440.5 225.5 
" style="fill: none; stroke: #000000; stroke-width: 0.7; stroke-linejoin: miter; stroke-linecap: square"/>
   </g>
   <g id="patch_29">
    <path d="M 36.1 325.5 
L 440.5 325.5 
" style="fill: none; stroke: #000000; stroke-width: 0.7; stroke-linejoin: miter; stroke-linecap: square"/>
   </g>
   <g id="patch_30">
    <path d="M 36.1 225.5 
L 440.5 225.5 
" style="fill: none; stroke: #000000; stroke-width: 0.7; stroke-linejoin: miter; stroke-linecap: square"/>
   </g>
  </g>
  <g id="axes_3">
   <g id="patch_31">
    <path d="M 489.9 337.4 
L 684.3 337.4 
L 684.3 211.4 
L 489.9 211.4 
z
" style="fill: #ffffff"/>
   </g>
   <g id="matplotlib.axis_5">
    <g id="xtick_28">
     <g id="line2d_45">
      <g>
       <use href="#m24d7ac94f8" x="526.64067" y="337.4" style="stroke: #000000; stroke-width: 0.7"/>
      </g>
     </g>
     <g id="text_42">
      <text transform="translate(526.641 346.659) matrix(1.0916 0 0 1.0634 -4.610 0.026)" style="font-size:6.00px;font-family:'Liberation Sans',sans-serif;fill:#000000;stroke:#000000;stroke-width:0.1">0.2</text>
     </g>
    </g>
    <g id="xtick_29">
     <g id="line2d_46">
      <g>
       <use href="#m24d7ac94f8" x="563.846411" y="337.4" style="stroke: #000000; stroke-width: 0.7"/>
      </g>
     </g>
     <g id="text_43">
      <text transform="translate(563.846 346.659) matrix(1.1053 0 0 1.0634 -4.613 0.026)" style="font-size:6.00px;font-family:'Liberation Sans',sans-serif;fill:#000000;stroke:#000000;stroke-width:0.1">0.4</text>
     </g>
    </g>
    <g id="xtick_30">
     <g id="line2d_47">
      <g>
       <use href="#m24d7ac94f8" x="601.052153" y="337.4" style="stroke: #000000; stroke-width: 0.7"/>
      </g>
     </g>
     <g id="text_44">
      <text transform="translate(601.052 346.659) matrix(1.1141 0 0 1.0634 -4.615 0.026)" style="font-size:6.00px;font-family:'Liberation Sans',sans-serif;fill:#000000;stroke:#000000;stroke-width:0.1">0.6</text>
     </g>
    </g>
    <g id="xtick_31">
     <g id="line2d_48">
      <g>
       <use href="#m24d7ac94f8" x="638.257895" y="337.4" style="stroke: #000000; stroke-width: 0.7"/>
      </g>
     </g>
     <g id="text_45">
      <text transform="translate(638.258 346.659) matrix(1.1103 0 0 1.0634 -4.614 0.026)" style="font-size:6.00px;font-family:'Liberation Sans',sans-serif;fill:#000000;stroke:#000000;stroke-width:0.1">0.8</text>
     </g>
    </g>
    <g id="xtick_32">
     <g id="line2d_49">
      <g>
       <use href="#m24d7ac94f8" x="675.463636" y="337.4" style="stroke: #000000; stroke-width: 0.7"/>
      </g>
     </g>
     <g id="text_46">
      <text transform="translate(675.464 346.659) matrix(1.1094 0 0 1.0634 -4.640 0.026)" style="font-size:6.00px;font-family:'Liberation Sans',sans-serif;fill:#000000;stroke:#000000;stroke-width:0.1">1.0</text>
     </g>
    </g>
    <g id="text_47">
     <text transform="translate(587.100 355.894) matrix(1.1082 0 0 1.0544 -58.473 0.039)" style="font-size:8.80px;font-family:'Liberation Sans',sans-serif;fill:#000000">Fraction of Ordered Videos</text>
    </g>
   </g>
   <g id="matplotlib.axis_6">
    <g id="ytick_12">
     <g id="line2d_50">
      <g>
       <use href="#m9cc13eb9c5" x="489.9" y="331.672727" style="stroke: #000000; stroke-width: 0.7"/>
      </g>
     </g>
     <g id="text_48">
      <text transform="translate(486.200 333.952) matrix(1.1061 0 0 1.0634 -9.385 0.026)" style="font-size:6.00px;font-family:'Liberation Sans',sans-serif;fill:#000000;stroke:#000000;stroke-width:0.1">0.0</text>
     </g>
    </g>
    <g id="ytick_13">
     <g id="line2d_51">
      <g>
       <use href="#m9cc13eb9c5" x="489.9" y="308.763636" style="stroke: #000000; stroke-width: 0.7"/>
      </g>
     </g>
     <g id="text_49">
      <text transform="translate(486.200 311.043) matrix(1.0916 0 0 1.0634 -9.382 0.026)" style="font-size:6.00px;font-family:'Liberation Sans',sans-serif;fill:#000000;stroke:#000000;stroke-width:0.1">0.2</text>
     </g>
    </g>
    <g id="ytick_14">
     <g id="line2d_52">
      <g>
       <use href="#m9cc13eb9c5" x="489.9" y="285.854545" style="stroke: #000000; stroke-width: 0.7"/>
      </g>
     </g>
     <g id="text_50">
      <text transform="translate(486.200 288.134) matrix(1.1053 0 0 1.0634 -9.384 0.026)" style="font-size:6.00px;font-family:'Liberation Sans',sans-serif;fill:#000000;stroke:#000000;stroke-width:0.1">0.4</text>
     </g>
    </g>
    <g id="ytick_15">
     <g id="line2d_53">
      <g>
       <use href="#m9cc13eb9c5" x="489.9" y="262.945455" style="stroke: #000000; stroke-width: 0.7"/>
      </g>
     </g>
     <g id="text_51">
      <text transform="translate(486.200 265.225) matrix(1.1141 0 0 1.0634 -9.386 0.026)" style="font-size:6.00px;font-family:'Liberation Sans',sans-serif;fill:#000000;stroke:#000000;stroke-width:0.1">0.6</text>
     </g>
    </g>
    <g id="ytick_16">
     <g id="line2d_54">
      <g>
       <use href="#m9cc13eb9c5" x="489.9" y="240.036364" style="stroke: #000000; stroke-width: 0.7"/>
      </g>
     </g>
     <g id="text_52">
      <text transform="translate(486.200 242.316) matrix(1.1103 0 0 1.0634 -9.385 0.026)" style="font-size:6.00px;font-family:'Liberation Sans',sans-serif;fill:#000000;stroke:#000000;stroke-width:0.1">0.8</text>
     </g>
    </g>
    <g id="ytick_17">
     <g id="line2d_55">
      <g>
       <use href="#m9cc13eb9c5" x="489.9" y="217.127273" style="stroke: #000000; stroke-width: 0.7"/>
      </g>
     </g>
     <g id="text_53">
      <text transform="translate(486.200 219.407) matrix(1.1094 0 0 1.0634 -9.412 0.026)" style="font-size:6.00px;font-family:'Liberation Sans',sans-serif;fill:#000000;stroke:#000000;stroke-width:0.1">1.0</text>
     </g>
    </g>
    <g id="text_54">
     <text transform="translate(472.828 274.400) rotate(-90) matrix(1.1253 0 0 1.0544 -44.088 0.039)" style="font-size:8.80px;font-family:'Liberation Sans',sans-serif;fill:#000000">Cumulative Fraction</text>
    </g>
   </g>
   <g id="line2d_56">
    <path d="M 498.736364 331.672727 
L 508.037799 331.672727 
L 517.339234 331.672727 
L 526.64067 331.672727 
L 535.942105 331.672727 
L 545.243541 331.672727 
L 554.544976 331.672727 
L 563.846411 331.672727 
L 573.147847 331.558182 
L 582.449282 331.214545 
L 591.750718 330.756364 
L 601.052153 329.84 
L 610.353589 328.465455 
L 619.655024 327.205455 
L 628.956459 324.456364 
L 638.257895 321.134545 
L 647.55933 315.750909 
L 656.860766 306.014545 
L 666.162201 288.832727 
L 675.463636 217.127273 
" clip-path="url(#p72668e9a7f)" style="fill: none; stroke: #52c77a; stroke-linecap: square"/>
   </g>
   <g id="line2d_57">
    <path d="M 498.736364 331.672727 
L 508.037799 331.672727 
L 517.339234 331.672727 
L 526.64067 331.672727 
L 535.942105 331.672727 
L 545.243541 331.672727 
L 554.544976 331.672727 
L 563.846411 331.672727 
L 573.147847 331.672727 
L 582.449282 331.558182 
L 591.750718 331.443636 
L 601.052153 331.1 
L 610.353589 330.527273 
L 619.655024 329.152727 
L 628.956459 327.892727 
L 638.257895 325.487273 
L 647.55933 321.134545 
L 656.860766 313.803636 
L 666.162201 298.912727 
L 675.463636 217.127273 
" clip-path="url(#p72668e9a7f)" style="fill: none; stroke: #006699; stroke-linecap: square"/>
   </g>
   <g id="patch_32">
    <path d="M 489.9 337.4 
L 489.9 211.4 
" style="fill: none; stroke: #000000; stroke-width: 0.7; stroke-linejoin: miter; stroke-linecap: square"/>
   </g>
   <g id="patch_33">
    <path d="M 684.3 337.4 
L 684.3 211.4 
" style="fill: none; stroke: #000000; stroke-width: 0.7; stroke-linejoin: miter; stroke-linecap: square"/>
   </g>
   <g id="patch_34">
    <path d="M 489.9 337.4 
L 684.3 337.4 
" style="fill: none; stroke: #000000; stroke-width: 0.7; stroke-linejoin: miter; stroke-linecap: square"/>
   </g>
   <g id="patch_35">
    <path d="M 489.9 211.4 
L 684.3 211.4 
" style="fill: none; stroke: #000000; stroke-width: 0.7; stroke-linejoin: miter; stroke-linecap: square"/>
   </g>
   <g id="PathCollection_1">
    <defs>
     <path id="me507dfae07" d="M 0 2.236068 
C 0.593012 2.236068 1.161816 2.000462 1.581139 1.581139 
C 2.000462 1.161816 2.236068 0.593012 2.236068 0 
C 2.236068 -0.593012 2.000462 -1.161816 1.581139 -1.581139 
C 1.161816 -2.000462 0.593012 -2.236068 0 -2.236068 
C -0.593012 -2.236068 -1.161816 -2.000462 -1.581139 -1.581139 
C -2.000462 -1.161816 -2.236068 -0.593012 -2.236068 0 
C -2.236068 0.593012 -2.000462 1.161816 -1.581139 1.581139 
C -1.161816 2.000462 -0.593012 2.236068 0 2.236068 
z
"/>
    </defs>
    <g clip-path="url(#p72668e9a7f)">
     <use href="#me507dfae07" x="498.736364" y="331.672727" style="fill: #52c77a"/>
     <use href="#me507dfae07" x="508.037799" y="331.672727" style="fill: #52c77a"/>
     <use href="#me507dfae07" x="517.339234" y="331.672727" style="fill: #52c77a"/>
     <use href="#me507dfae07" x="526.64067" y="331.672727" style="fill: #52c77a"/>
     <use href="#me507dfae07" x="535.942105" y="331.672727" style="fill: #52c77a"/>
     <use href="#me507dfae07" x="545.243541" y="331.672727" style="fill: #52c77a"/>
     <use href="#me507dfae07" x="554.544976" y="331.672727" style="fill: #52c77a"/>
     <use href="#me507dfae07" x="563.846411" y="331.672727" style="fill: #52c77a"/>
     <use href="#me507dfae07" x="573.147847" y="331.558182" style="fill: #52c77a"/>
     <use href="#me507dfae07" x="582.449282" y="331.214545" style="fill: #52c77a"/>
     <use href="#me507dfae07" x="591.750718" y="330.756364" style="fill: #52c77a"/>
     <use href="#me507dfae07" x="601.052153" y="329.84" style="fill: #52c77a"/>
     <use href="#me507dfae07" x="610.353589" y="328.465455" style="fill: #52c77a"/>
     <use href="#me507dfae07" x="619.655024" y="327.205455" style="fill: #52c77a"/>
     <use href="#me507dfae07" x="628.956459" y="324.456364" style="fill: #52c77a"/>
     <use href="#me507dfae07" x="638.257895" y="321.134545" style="fill: #52c77a"/>
     <use href="#me507dfae07" x="647.55933" y="315.750909" style="fill: #52c77a"/>
     <use href="#me507dfae07" x="656.860766" y="306.014545" style="fill: #52c77a"/>
     <use href="#me507dfae07" x="666.162201" y="288.832727" style="fill: #52c77a"/>
     <use href="#me507dfae07" x="675.463636" y="217.127273" style="fill: #52c77a"/>
    </g>
   </g>
   <g id="PathCollection_2">
    <defs>
     <path id="m34085038df" d="M 0 2.236068 
C 0.593012 2.236068 1.161816 2.000462 1.581139 1.581139 
C 2.000462 1.161816 2.236068 0.593012 2.236068 0 
C 2.236068 -0.593012 2.000462 -1.161816 1.581139 -1.581139 
C 1.161816 -2.000462 0.593012 -2.236068 0 -2.236068 
C -0.593012 -2.236068 -1.161816 -2.000462 -1.581139 -1.581139 
C -2.000462 -1.161816 -2.236068 -0.593012 -2.236068 0 
C -2.236068 0.593012 -2.000462 1.161816 -1.581139 1.581139 
C -1.161816 2.000462 -0.593012 2.236068 0 2.236068 
z
"/>
    </defs>
    <g clip-path="url(#p72668e9a7f)">
     <use href="#m34085038df" x="498.736364" y="331.672727" style="fill: #006699"/>
     <use href="#m34085038df" x="508.037799" y="331.672727" style="fill: #006699"/>
     <use href="#m34085038df" x="517.339234" y="331.672727" style="fill: #006699"/>
     <use href="#m34085038df" x="526.64067" y="331.672727" style="fill: #006699"/>
     <use href="#m34085038df" x="535.942105" y="331.672727" style="fill: #006699"/>
     <use href="#m34085038df" x="545.243541" y="331.672727" style="fill: #006699"/>
     <use href="#m34085038df" x="554.544976" y="331.672727" style="fill: #006699"/>
     <use href="#m34085038df" x="563.846411" y="331.672727" style="fill: #006699"/>
     <use href="#m34085038df" x="573.147847" y="331.672727" style="fill: #006699"/>
     <use href="#m34085038df" x="582.449282" y="331.558182" style="fill: #006699"/>
     <use href="#m34085038df" x="591.750718" y="331.443636" style="fill: #006699"/>
     <use href="#m34085038df" x="601.052153" y="331.1" style="fill: #006699"/>
     <use href="#m34085038df" x="610.353589" y="330.527273" style="fill: #006699"/>
     <use href="#m34085038df" x="619.655024" y="329.152727" style="fill: #006699"/>
     <use href="#m34085038df" x="628.956459" y="327.892727" style="fill: #006699"/>
     <use href="#m34085038df" x="638.257895" y="325.487273" style="fill: #006699"/>
     <use href="#m34085038df" x="647.55933" y="321.134545" style="fill: #006699"/>
     <use href="#m34085038df" x="656.860766" y="313.803636" style="fill: #006699"/>
     <use href="#m34085038df" x="666.162201" y="298.912727" style="fill: #006699"/>
     <use href="#m34085038df" x="675.463636" y="217.127273" style="fill: #006699"/>
    </g>
   </g>
   <g id="legend_1">
    <g id="patch_36">
     <path d="M 496.06 244.2735 
L 573.020125 244.2735 
Q 574.780125 244.2735 574.780125 242.5135 
L 574.780125 217.56 
Q 574.780125 215.8 573.020125 215.8 
L 496.06 215.8 
Q 494.3 215.8 494.3 217.56 
L 494.3 242.5135 
Q 494.3 244.2735 496.06 244.2735 
z
" style="fill: #ffffff; opacity: 0.8; stroke: #cccccc; stroke-linejoin: miter"/>
    </g>
    <g id="PathCollection_3">
     <g>
      <use href="#me507dfae07" x="506.62" y="223.696625" style="fill: #52c77a"/>
     </g>
    </g>
    <g id="text_55">
     <text transform="translate(522.460 226.007) matrix(1.1308 0 0 1.0544 0.086 0.039)" style="font-size:8.80px;font-family:'Liberation Sans',sans-serif;fill:#000000">corrections</text>
    </g>
    <g id="PathCollection_4">
     <g>
      <use href="#m34085038df" x="506.62" y="236.613375" style="fill: #006699"/>
     </g>
    </g>
    <g id="text_56">
     <text transform="translate(522.460 238.923) matrix(1.1179 0 0 1.0544 0.215 0.039)" style="font-size:8.80px;font-family:'Liberation Sans',sans-serif;fill:#000000">views</text>
    </g>
   </g>
  </g>
  <g id="axes_4">
   <g id="patch_37">
    <path d="M 36 531.8 
L 440 531.8 
L 440 431.5 
L 36 431.5 
z
" style="fill: #ffffff"/>
   </g>
   <g id="patch_38">
    <path d="M 54.363636 531.8 
L 69.202938 531.8 
L 69.202938 482.951297 
L 54.363636 482.951297 
z
" clip-path="url(#pd611f2f00b)" style="fill: #52c77a"/>
   </g>
   <g id="patch_39">
    <path d="M 72.912764 531.8 
L 87.752066 531.8 
L 87.752066 516.284531 
L 72.912764 516.284531 
z
" clip-path="url(#pd611f2f00b)" style="fill: #52c77a"/>
   </g>
   <g id="patch_40">
    <path d="M 91.461892 531.8 
L 106.301194 531.8 
L 106.301194 519.788024 
L 91.461892 519.788024 
z
" clip-path="url(#pd611f2f00b)" style="fill: #52c77a"/>
   </g>
   <g id="patch_41">
    <path d="M 110.011019 531.8 
L 124.850321 531.8 
L 124.850321 521.289521 
L 110.011019 521.289521 
z
" clip-path="url(#pd611f2f00b)" style="fill: #52c77a"/>
   </g>
   <g id="patch_42">
    <path d="M 128.560147 531.8 
L 143.399449 531.8 
L 143.399449 519.187425 
L 128.560147 519.187425 
z
" clip-path="url(#pd611f2f00b)" style="fill: #52c77a"/>
   </g>
   <g id="patch_43">
    <path d="M 147.109275 531.8 
L 161.948577 531.8 
L 161.948577 514.282535 
L 147.109275 514.282535 
z
" clip-path="url(#pd611f2f00b)" style="fill: #52c77a"/>
   </g>
   <g id="patch_44">
    <path d="M 165.658402 531.8 
L 180.497704 531.8 
L 180.497704 491.159481 
L 165.658402 491.159481 
z
" clip-path="url(#pd611f2f00b)" style="fill: #52c77a"/>
   </g>
   <g id="patch_45">
    <path d="M 184.20753 531.8 
L 199.046832 531.8 
L 199.046832 516.284531 
L 184.20753 516.284531 
z
" clip-path="url(#pd611f2f00b)" style="fill: #52c77a"/>
   </g>
   <g id="patch_46">
    <path d="M 202.756657 531.8 
L 217.59596 531.8 
L 217.59596 523.591816 
L 202.756657 523.591816 
z
" clip-path="url(#pd611f2f00b)" style="fill: #52c77a"/>
   </g>
   <g id="patch_47">
    <path d="M 221.305785 531.8 
L 236.145087 531.8 
L 236.145087 517.185429 
L 221.305785 517.185429 
z
" clip-path="url(#pd611f2f00b)" style="fill: #52c77a"/>
   </g>
   <g id="patch_48">
    <path d="M 239.854913 531.8 
L 254.694215 531.8 
L 254.694215 473.041417 
L 239.854913 473.041417 
z
" clip-path="url(#pd611f2f00b)" style="fill: #52c77a"/>
   </g>
   <g id="patch_49">
    <path d="M 258.40404 531.8 
L 273.243343 531.8 
L 273.243343 474.843214 
L 258.40404 474.843214 
z
" clip-path="url(#pd611f2f00b)" style="fill: #52c77a"/>
   </g>
   <g id="patch_50">
    <path d="M 276.953168 531.8 
L 291.79247 531.8 
L 291.79247 501.369661 
L 276.953168 501.369661 
z
" clip-path="url(#pd611f2f00b)" style="fill: #52c77a"/>
   </g>
   <g id="patch_51">
    <path d="M 295.502296 531.8 
L 310.341598 531.8 
L 310.341598 516.58483 
L 295.502296 516.58483 
z
" clip-path="url(#pd611f2f00b)" style="fill: #52c77a"/>
   </g>
   <g id="patch_52">
    <path d="M 314.051423 531.8 
L 328.890725 531.8 
L 328.890725 485.053393 
L 314.051423 485.053393 
z
" clip-path="url(#pd611f2f00b)" style="fill: #52c77a"/>
   </g>
   <g id="patch_53">
    <path d="M 332.600551 531.8 
L 347.439853 531.8 
L 347.439853 518.887126 
L 332.600551 518.887126 
z
" clip-path="url(#pd611f2f00b)" style="fill: #52c77a"/>
   </g>
   <g id="patch_54">
    <path d="M 351.149679 531.8 
L 365.988981 531.8 
L 365.988981 520.989222 
L 351.149679 520.989222 
z
" clip-path="url(#pd611f2f00b)" style="fill: #52c77a"/>
   </g>
   <g id="patch_55">
    <path d="M 369.698806 531.8 
L 384.538108 531.8 
L 384.538108 514.582834 
L 369.698806 514.582834 
z
" clip-path="url(#pd611f2f00b)" style="fill: #52c77a"/>
   </g>
   <g id="patch_56">
    <path d="M 388.247934 531.8 
L 403.087236 531.8 
L 403.087236 511.079341 
L 388.247934 511.079341 
z
" clip-path="url(#pd611f2f00b)" style="fill: #52c77a"/>
   </g>
   <g id="patch_57">
    <path d="M 406.797062 531.8 
L 421.636364 531.8 
L 421.636364 436.70519 
L 406.797062 436.70519 
z
" clip-path="url(#pd611f2f00b)" style="fill: #52c77a"/>
   </g>
   <g id="matplotlib.axis_7">
    <g id="xtick_33">
     <g id="line2d_58">
      <g>
       <use href="#m24d7ac94f8" x="61.783287" y="531.8" style="stroke: #000000; stroke-width: 0.7"/>
      </g>
     </g>
     <g id="text_57">
      <text transform="translate(37.829935 562.236225) rotate(-45) matrix(1.0065 0 0 1.0634 0.085 0.026)" style="font-size:5.85px;font-family:'Liberation Sans',sans-serif;fill:#000000;stroke:#000000;stroke-width:0.1">FRANCE 24</text>
     </g>
    </g>
    <g id="xtick_34">
     <g id="line2d_59">
      <g>
       <use href="#m24d7ac94f8" x="80.332415" y="531.8" style="stroke: #000000; stroke-width: 0.7"/>
      </g>
     </g>
     <g id="text_58">
      <text transform="translate(57.216072 561.399215) rotate(-45) matrix(1.0700 0 0 1.0544 0.055 0.026)" style="font-size:5.85px;font-family:'Liberation Sans',sans-serif;fill:#000000;stroke:#000000;stroke-width:0.1">Le Parisien</text>
     </g>
    </g>
    <g id="xtick_35">
     <g id="line2d_60">
      <g>
       <use href="#m24d7ac94f8" x="98.881543" y="531.8" style="stroke: #000000; stroke-width: 0.7"/>
      </g>
     </g>
     <g id="text_59">
      <text transform="translate(44.860463 592.469415) rotate(-45) matrix(1.1199 0 0 1.0688 -0.160 -0.085)" style="font-size:5.85px;font-family:'Liberation Sans',sans-serif;fill:#000000;stroke:#000000;stroke-width:0.1">Touche pas à mon poste !</text>
     </g>
    </g>
    <g id="xtick_36">
     <g id="line2d_61">
      <g>
       <use href="#m24d7ac94f8" x="117.43067" y="531.8" style="stroke: #000000; stroke-width: 0.7"/>
      </g>
     </g>
     <g id="text_60">
      <text transform="translate(94.818473 560.89507) rotate(-45) matrix(1.0565 0 0 1.0440 0.061 -0.054)" style="font-size:5.85px;font-family:'Liberation Sans',sans-serif;fill:#000000;stroke:#000000;stroke-width:0.1">RMC Sport</text>
     </g>
    </g>
    <g id="xtick_37">
     <g id="line2d_62">
      <g>
       <use href="#m24d7ac94f8" x="135.979798" y="531.8" style="stroke: #000000; stroke-width: 0.7"/>
      </g>
     </g>
     <g id="text_61">
      <text transform="translate(113.045077 561.217593) rotate(-45) matrix(1.0743 0 0 1.0544 0.053 0.026)" style="font-size:5.85px;font-family:'Liberation Sans',sans-serif;fill:#000000;stroke:#000000;stroke-width:0.1">LeHuffPost</text>
     </g>
    </g>
    <g id="xtick_38">
     <g id="line2d_63">
      <g>
       <use href="#m24d7ac94f8" x="154.528926" y="531.8" style="stroke: #000000; stroke-width: 0.7"/>
      </g>
     </g>
     <g id="text_62">
      <text transform="translate(128.888626 563.923172) rotate(-45) matrix(1.1132 0 0 1.0643 0.035 0.025)" style="font-size:5.85px;font-family:'Liberation Sans',sans-serif;fill:#000000;stroke:#000000;stroke-width:0.1">France Inter</text>
     </g>
    </g>
    <g id="xtick_39">
     <g id="line2d_64">
      <g>
       <use href="#m24d7ac94f8" x="173.078053" y="531.8" style="stroke: #000000; stroke-width: 0.7"/>
      </g>
     </g>
     <g id="text_63">
      <text transform="translate(153.725994 557.634932) rotate(-45) matrix(1.0889 0 0 1.0444 0.046 -0.055)" style="font-size:5.85px;font-family:'Liberation Sans',sans-serif;fill:#000000;stroke:#000000;stroke-width:0.1">Europe 1</text>
     </g>
    </g>
    <g id="xtick_40">
     <g id="line2d_65">
      <g>
       <use href="#m24d7ac94f8" x="191.627181" y="531.8" style="stroke: #000000; stroke-width: 0.7"/>
      </g>
     </g>
     <g id="text_64">
      <text transform="translate(169.956054 559.953999) rotate(-45) matrix(1.0720 0 0 1.0544 0.098 0.026)" style="font-size:5.85px;font-family:'Liberation Sans',sans-serif;fill:#000000;stroke:#000000;stroke-width:0.1">Sud Radio</text>
     </g>
    </g>
    <g id="xtick_41">
     <g id="line2d_66">
      <g>
       <use href="#m24d7ac94f8" x="210.176309" y="531.8" style="stroke: #000000; stroke-width: 0.7"/>
      </g>
     </g>
     <g id="text_65">
      <text transform="translate(194.111533 554.347648) rotate(-45) matrix(1.0940 0 0 1.0544 0.044 0.026)" style="font-size:5.85px;font-family:'Liberation Sans',sans-serif;fill:#000000;stroke:#000000;stroke-width:0.1">Konbini</text>
     </g>
    </g>
    <g id="xtick_42">
     <g id="line2d_67">
      <g>
       <use href="#m24d7ac94f8" x="228.725436" y="531.8" style="stroke: #000000; stroke-width: 0.7"/>
      </g>
     </g>
     <g id="text_66">
      <text transform="translate(218.312902 548.695406) rotate(-45) matrix(0.9781 0 0 1.0634 0.030 0.026)" style="font-size:5.85px;font-family:'Liberation Sans',sans-serif;fill:#000000;stroke:#000000;stroke-width:0.1">VICE</text>
     </g>
    </g>
    <g id="xtick_43">
     <g id="line2d_68">
      <g>
       <use href="#m24d7ac94f8" x="247.274564" y="531.8" style="stroke: #000000; stroke-width: 0.7"/>
      </g>
     </g>
     <g id="text_67">
      <text transform="translate(198.953555 586.603881) rotate(-45) matrix(1.1251 0 0 1.0214 0.058 -0.114)" style="font-size:5.85px;font-family:'Liberation Sans',sans-serif;fill:#000000;stroke:#000000;stroke-width:0.1">euronews (en français)</text>
     </g>
    </g>
    <g id="xtick_44">
     <g id="line2d_69">
      <g>
       <use href="#m24d7ac94f8" x="265.823691" y="531.8" style="stroke: #000000; stroke-width: 0.7"/>
      </g>
     </g>
     <g id="text_68">
      <text transform="translate(255.631559 548.475004) rotate(-45) matrix(0.9769 0 0 1.0634 0.099 0.026)" style="font-size:5.85px;font-family:'Liberation Sans',sans-serif;fill:#000000;stroke:#000000;stroke-width:0.1">RMC</text>
     </g>
    </g>
    <g id="xtick_45">
     <g id="line2d_70">
      <g>
       <use href="#m24d7ac94f8" x="284.372819" y="531.8" style="stroke: #000000; stroke-width: 0.7"/>
      </g>
     </g>
     <g id="text_69">
      <text transform="translate(269.36998 553.285711) rotate(-45) matrix(1.0045 0 0 1.0580 0.086 0.000)" style="font-size:5.85px;font-family:'Liberation Sans',sans-serif;fill:#000000;stroke:#000000;stroke-width:0.1">BFMTV</text>
     </g>
    </g>
    <g id="xtick_46">
     <g id="line2d_71">
      <g>
       <use href="#m24d7ac94f8" x="302.921947" y="531.8" style="stroke: #000000; stroke-width: 0.7"/>
      </g>
     </g>
     <g id="text_70">
      <text transform="translate(291.517281 549.687538) rotate(-45) matrix(0.9519 0 0 1.0580 0.031 0.000)" style="font-size:5.85px;font-family:'Liberation Sans',sans-serif;fill:#000000;stroke:#000000;stroke-width:0.1">ARTE</text>
     </g>
    </g>
    <g id="xtick_47">
     <g id="line2d_72">
      <g>
       <use href="#m24d7ac94f8" x="321.471074" y="531.8" style="stroke: #000000; stroke-width: 0.7"/>
      </g>
     </g>
     <g id="text_71">
      <text transform="translate(287.75993 571.994017) rotate(-45) matrix(1.0612 0 0 1.0544 -0.153 0.026)" style="font-size:5.85px;font-family:'Liberation Sans',sans-serif;fill:#000000;stroke:#000000;stroke-width:0.1">TV5MONDE Info</text>
     </g>
    </g>
    <g id="xtick_48">
     <g id="line2d_73">
      <g>
       <use href="#m24d7ac94f8" x="340.020202" y="531.8" style="stroke: #000000; stroke-width: 0.7"/>
      </g>
     </g>
     <g id="text_72">
      <text transform="translate(314.46328 563.839794) rotate(-45) matrix(1.0708 0 0 1.0940 0.055 0.024)" style="font-size:5.85px;font-family:'Liberation Sans',sans-serif;fill:#000000;stroke:#000000;stroke-width:0.1">Lama Faché</text>
     </g>
    </g>
    <g id="xtick_49">
     <g id="line2d_74">
      <g>
       <use href="#m24d7ac94f8" x="358.56933" y="531.8" style="stroke: #000000; stroke-width: 0.7"/>
      </g>
     </g>
     <g id="text_73">
      <text transform="translate(348.927233 547.924969) rotate(-45) matrix(1.1457 0 0 1.0643 0.020 0.025)" style="font-size:5.85px;font-family:'Liberation Sans',sans-serif;fill:#000000;stroke:#000000;stroke-width:0.1">Brut</text>
     </g>
    </g>
    <g id="xtick_50">
     <g id="line2d_75">
      <g>
       <use href="#m24d7ac94f8" x="377.118457" y="531.8" style="stroke: #000000; stroke-width: 0.7"/>
      </g>
     </g>
     <g id="text_74">
      <text transform="translate(369.844549 545.55678) rotate(-45) matrix(0.9784 0 0 1.0634 0.098 0.026)" style="font-size:5.85px;font-family:'Liberation Sans',sans-serif;fill:#000000;stroke:#000000;stroke-width:0.1">LCI</text>
     </g>
    </g>
    <g id="xtick_51">
     <g id="line2d_76">
      <g>
       <use href="#m24d7ac94f8" x="395.667585" y="531.8" style="stroke: #000000; stroke-width: 0.7"/>
      </g>
     </g>
     <g id="text_75">
      <text transform="translate(361.684331 572.431589) rotate(-45) matrix(1.0986 0 0 1.0688 0.070 -0.085)" style="font-size:5.85px;font-family:'Liberation Sans',sans-serif;fill:#000000;stroke:#000000;stroke-width:0.1">Zap Télé Officiel</text>
     </g>
    </g>
    <g id="xtick_52">
     <g id="line2d_77">
      <g>
       <use href="#m24d7ac94f8" x="414.216713" y="531.8" style="stroke: #000000; stroke-width: 0.7"/>
      </g>
     </g>
     <g id="text_76">
      <text transform="translate(378.46572 574.033865) rotate(-45) matrix(1.0024 0 0 1.0634 0.057 0.026)" style="font-size:5.85px;font-family:'Liberation Sans',sans-serif;fill:#000000;stroke:#000000;stroke-width:0.1">UNISSONS NOUS</text>
     </g>
    </g>
   </g>
   <g id="matplotlib.axis_8">
    <g id="ytick_18">
     <g id="line2d_78">
      <g>
       <use href="#m9cc13eb9c5" x="36" y="531.8" style="stroke: #000000; stroke-width: 0.7"/>
      </g>
     </g>
     <g id="text_77">
      <text transform="translate(32.300 534.080) matrix(1.1271 0 0 1.0634 -20.842 0.026)" style="font-size:6.00px;font-family:'Liberation Sans',sans-serif;fill:#000000;stroke:#000000;stroke-width:0.1">0.0000</text>
     </g>
    </g>
    <g id="ytick_19">
     <g id="line2d_79">
      <g>
       <use href="#m9cc13eb9c5" x="36" y="518.043785" style="stroke: #000000; stroke-width: 0.7"/>
      </g>
     </g>
     <g id="text_78">
      <text transform="translate(32.300 520.323) matrix(1.1223 0 0 1.0634 -20.841 0.026)" style="font-size:6.00px;font-family:'Liberation Sans',sans-serif;fill:#000000;stroke:#000000;stroke-width:0.1">0.0025</text>
     </g>
    </g>
    <g id="ytick_20">
     <g id="line2d_80">
      <g>
       <use href="#m9cc13eb9c5" x="36" y="504.28757" style="stroke: #000000; stroke-width: 0.7"/>
      </g>
     </g>
     <g id="text_79">
      <text transform="translate(32.300 506.567) matrix(1.1271 0 0 1.0634 -20.842 0.026)" style="font-size:6.00px;font-family:'Liberation Sans',sans-serif;fill:#000000;stroke:#000000;stroke-width:0.1">0.0050</text>
     </g>
    </g>
    <g id="ytick_21">
     <g id="line2d_81">
      <g>
       <use href="#m9cc13eb9c5" x="36" y="490.531355" style="stroke: #000000; stroke-width: 0.7"/>
      </g>
     </g>
     <g id="text_80">
      <text transform="translate(32.300 492.811) matrix(1.1223 0 0 1.0634 -20.841 0.026)" style="font-size:6.00px;font-family:'Liberation Sans',sans-serif;fill:#000000;stroke:#000000;stroke-width:0.1">0.0075</text>
     </g>
    </g>
    <g id="ytick_22">
     <g id="line2d_82">
      <g>
       <use href="#m9cc13eb9c5" x="36" y="476.77514" style="stroke: #000000; stroke-width: 0.7"/>
      </g>
     </g>
     <g id="text_81">
      <text transform="translate(32.300 479.055) matrix(1.1271 0 0 1.0634 -20.842 0.026)" style="font-size:6.00px;font-family:'Liberation Sans',sans-serif;fill:#000000;stroke:#000000;stroke-width:0.1">0.0100</text>
     </g>
    </g>
    <g id="ytick_23">
     <g id="line2d_83">
      <g>
       <use href="#m9cc13eb9c5" x="36" y="463.018925" style="stroke: #000000; stroke-width: 0.7"/>
      </g>
     </g>
     <g id="text_82">
      <text transform="translate(32.300 465.298) matrix(1.1223 0 0 1.0634 -20.841 0.026)" style="font-size:6.00px;font-family:'Liberation Sans',sans-serif;fill:#000000;stroke:#000000;stroke-width:0.1">0.0125</text>
     </g>
    </g>
    <g id="ytick_24">
     <g id="line2d_84">
      <g>
       <use href="#m9cc13eb9c5" x="36" y="449.26271" style="stroke: #000000; stroke-width: 0.7"/>
      </g>
     </g>
     <g id="text_83">
      <text transform="translate(32.300 451.542) matrix(1.1271 0 0 1.0634 -20.842 0.026)" style="font-size:6.00px;font-family:'Liberation Sans',sans-serif;fill:#000000;stroke:#000000;stroke-width:0.1">0.0150</text>
     </g>
    </g>
    <g id="ytick_25">
     <g id="line2d_85">
      <g>
       <use href="#m9cc13eb9c5" x="36" y="435.506495" style="stroke: #000000; stroke-width: 0.7"/>
      </g>
     </g>
     <g id="text_84">
      <text transform="translate(32.300 437.786) matrix(1.1223 0 0 1.0634 -20.841 0.026)" style="font-size:6.00px;font-family:'Liberation Sans',sans-serif;fill:#000000;stroke:#000000;stroke-width:0.1">0.0175</text>
     </g>
    </g>
    <g id="text_85">
     <text transform="translate(7.476 481.650) rotate(-90) matrix(1.1212 0 0 1.0544 -43.319 0.039)" style="font-size:8.80px;font-family:'Liberation Sans',sans-serif;fill:#000000">Fraction corrections</text>
    </g>
   </g>
   <g id="line2d_86">
    <path d="M 61.783287 463.431836 
L 80.332415 474.542914 
L 98.881543 487.655988 
L 117.43067 496.76507 
L 135.979798 497.866168 
L 154.528926 499.667964 
L 173.078053 509.277545 
L 191.627181 510.178443 
L 210.176309 514.582834 
L 228.725436 515.383633 
L 247.274564 515.884132 
L 265.823691 516.284531 
L 284.372819 516.284531 
L 302.921947 517.185429 
L 321.471074 518.386627 
L 340.020202 518.686926 
L 358.56933 519.487725 
L 377.118457 520.688922 
L 395.667585 520.989222 
L 414.216713 521.289521 
" clip-path="url(#pd611f2f00b)" style="fill: none; stroke-dasharray: 3.33,1.44; stroke-dashoffset: 0; stroke: #006699; stroke-width: 0.9"/>
    <g clip-path="url(#pd611f2f00b)">
     <use href="#m9df8ff04ab" x="61.783287" y="463.431836" style="fill: #006699"/>
     <use href="#m9df8ff04ab" x="80.332415" y="474.542914" style="fill: #006699"/>
     <use href="#m9df8ff04ab" x="98.881543" y="487.655988" style="fill: #006699"/>
     <use href="#m9df8ff04ab" x="117.43067" y="496.76507" style="fill: #006699"/>
     <use href="#m9df8ff04ab" x="135.979798" y="497.866168" style="fill: #006699"/>
     <use href="#m9df8ff04ab" x="154.528926" y="499.667964" style="fill: #006699"/>
     <use href="#m9df8ff04ab" x="173.078053" y="509.277545" style="fill: #006699"/>
     <use href="#m9df8ff04ab" x="191.627181" y="510.178443" style="fill: #006699"/>
     <use href="#m9df8ff04ab" x="210.176309" y="514.582834" style="fill: #006699"/>
     <use href="#m9df8ff04ab" x="228.725436" y="515.383633" style="fill: #006699"/>
     <use href="#m9df8ff04ab" x="247.274564" y="515.884132" style="fill: #006699"/>
     <use href="#m9df8ff04ab" x="265.823691" y="516.284531" style="fill: #006699"/>
     <use href="#m9df8ff04ab" x="284.372819" y="516.284531" style="fill: #006699"/>
     <use href="#m9df8ff04ab" x="302.921947" y="517.185429" style="fill: #006699"/>
     <use href="#m9df8ff04ab" x="321.471074" y="518.386627" style="fill: #006699"/>
     <use href="#m9df8ff04ab" x="340.020202" y="518.686926" style="fill: #006699"/>
     <use href="#m9df8ff04ab" x="358.56933" y="519.487725" style="fill: #006699"/>
     <use href="#m9df8ff04ab" x="377.118457" y="520.688922" style="fill: #006699"/>
     <use href="#m9df8ff04ab" x="395.667585" y="520.989222" style="fill: #006699"/>
     <use href="#m9df8ff04ab" x="414.216713" y="521.289521" style="fill: #006699"/>
    </g>
   </g>
   <g id="patch_58">
    <path d="M 36 531.8 
L 36 431.5 
" style="fill: none; stroke: #000000; stroke-width: 0.7; stroke-linejoin: miter; stroke-linecap: square"/>
   </g>
   <g id="patch_59">
    <path d="M 440 531.8 
L 440 431.5 
" style="fill: none; stroke: #000000; stroke-width: 0.7; stroke-linejoin: miter; stroke-linecap: square"/>
   </g>
   <g id="patch_60">
    <path d="M 36 531.8 
L 440 531.8 
" style="fill: none; stroke: #000000; stroke-width: 0.7; stroke-linejoin: miter; stroke-linecap: square"/>
   </g>
   <g id="patch_61">
    <path d="M 36 431.5 
L 440 431.5 
" style="fill: none; stroke: #000000; stroke-width: 0.7; stroke-linejoin: miter; stroke-linecap: square"/>
   </g>
  </g>
  <g id="axes_5">
   <g id="patch_62">
    <path d="M 585.46 420.24 
C 571.369583 420.24 557.691548 425.043384 546.694958 433.853313 
C 535.698368 442.663242 528.026893 454.964039 524.953162 468.715113 
L 585.46 482.24 
z
" style="fill: #001f2e; opacity: 0.5; stroke: #001f2e; stroke-linejoin: miter"/>
   </g>
   <g id="patch_63">
    <path d="M 524.953166 468.715104 
C 523.560654 474.944843 523.138566 481.35244 523.701859 487.711012 
C 524.265151 494.069584 525.807089 500.303194 528.273077 506.191117 
C 530.739065 512.07904 534.099657 517.550957 538.235851 522.413121 
C 542.372044 527.275286 547.234449 531.469624 552.650889 534.847625 
C 558.06733 538.225627 563.973141 540.746955 570.159171 542.322315 
C 576.345201 543.897676 582.737575 544.50827 589.109977 544.132469 
C 595.48238 543.756671 601.758676 542.398974 607.716666 540.107443 
C 613.674655 537.815912 619.243175 534.617914 624.225033 530.626694 
C 629.206891 526.635475 633.542615 521.898684 637.078654 516.584066 
C 640.614692 511.269448 643.308829 505.440477 645.065675 499.30352 
C 646.822521 493.166565 647.621094 486.794944 647.433112 480.414239 
C 647.245133 474.033533 646.072843 467.719945 643.957756 461.69706 
C 641.84267 455.674174 638.810053 450.013918 634.967274 444.916687 
C 631.124495 439.819457 626.517441 435.346124 621.309256 431.655111 
C 616.101074 427.964098 610.353942 425.099467 604.271383 423.162662 
C 598.188824 421.225856 591.843482 420.24 585.460009 420.24 
L 585.46 482.24 
z
" style="fill: #193c25; opacity: 0.5; stroke: #193c25; stroke-linejoin: miter"/>
   </g>
   <g id="patch_64">
    <path d="M 586.7 419 
C 572.609583 419 558.931548 423.803384 547.934958 432.613313 
C 536.938368 441.423242 529.266893 453.724039 526.193162 467.475113 
L 586.7 481 
z
" style="fill: #006699"/>
   </g>
   <g id="patch_65">
    <path d="M 526.193166 467.475104 
C 524.800654 473.704843 524.378566 480.11244 524.941859 486.471012 
C 525.505151 492.829584 527.047089 499.063194 529.513077 504.951117 
C 531.979065 510.83904 535.339657 516.310957 539.475851 521.173121 
C 543.612044 526.035286 548.474449 530.229624 553.890889 533.607625 
C 559.30733 536.985627 565.213141 539.506955 571.399171 541.082315 
C 577.585201 542.657676 583.977575 543.26827 590.349977 542.892469 
C 596.72238 542.516671 602.998676 541.158974 608.956666 538.867443 
C 614.914655 536.575912 620.483175 533.377914 625.465033 529.386694 
C 630.446891 525.395475 634.782615 520.658684 638.318654 515.344066 
C 641.854692 510.029448 644.548829 504.200477 646.305675 498.06352 
C 648.062521 491.926565 648.861094 485.554944 648.673112 479.174239 
C 648.485133 472.793533 647.312843 466.479945 645.197756 460.45706 
C 643.08267 454.434174 640.050053 448.773918 636.207274 443.676687 
C 632.364495 438.579457 627.757441 434.106124 622.549256 430.415111 
C 617.341074 426.724098 611.593942 423.859467 605.511383 421.922662 
C 599.428824 419.985856 593.083482 419 586.700009 419 
L 586.7 481 
z
" style="fill: #52c77a"/>
   </g>
  </g>
  <g id="text_86">
   <text transform="translate(36.200 13.000) matrix(1.1418 0 0 1.0580 -0.400 0.000)" style="font-size:17.00px;font-family:'Liberation Sans',sans-serif;font-weight:bold;fill:#000000">A</text>
  </g>
  <g id="text_87">
   <text transform="translate(36.100 222.600) matrix(0.9837 0 0 1.0580 0.443 0.000)" style="font-size:17.00px;font-family:'Liberation Sans',sans-serif;font-weight:bold;fill:#000000">B</text>
  </g>
  <g id="text_88">
   <text transform="translate(492.000 209.700) matrix(0.9466 0 0 1.0634 0.206 0.074)" style="font-size:17.00px;font-family:'Liberation Sans',sans-serif;font-weight:bold;fill:#000000">C</text>
  </g>
  <g id="text_89">
   <text transform="translate(35.900 428.700) matrix(0.9204 0 0 1.0580 0.513 0.000)" style="font-size:17.00px;font-family:'Liberation Sans',sans-serif;font-weight:bold;fill:#000000">E</text>
  </g>
  <g id="text_90">
   <text transform="translate(491.600 423.800) matrix(1.0000 0 0 1.0580 0.425 0.000)" style="font-size:17.00px;font-family:'Liberation Sans',sans-serif;font-weight:bold;fill:#000000">F</text>
  </g>
  <g id="text_91">
   <text transform="translate(53.600 306.900) matrix(1.2132 0 0 1.0571 0.313 0.000)" style="font-size:8.10px;font-family:'Liberation Sans',sans-serif;font-weight:bold;fill:#006699">247</text>
  </g>
  <g id="text_92">
   <text transform="translate(48.000 315.800) matrix(1.1679 0 0 1.0544 0.074 0.036)" style="font-size:8.10px;font-family:'Liberation Sans',sans-serif;font-weight:bold;fill:#006699">views</text>
  </g>
  <g id="text_93">
   <text transform="translate(303.000 233.800) matrix(1.1913 0 0 1.0544 0.318 0.036)" style="font-size:8.10px;font-family:'Liberation Sans',sans-serif;font-weight:bold;fill:#006699">546 thousand</text>
  </g>
  <g id="text_94">
   <text transform="translate(314.500 242.600) matrix(1.1679 0 0 1.0544 0.074 0.036)" style="font-size:8.10px;font-family:'Liberation Sans',sans-serif;font-weight:bold;fill:#006699">views</text>
  </g>
  <g id="text_95">
   <text transform="translate(46.600 446.000) matrix(1.1998 0 0 1.0544 0.316 0.036)" style="font-size:8.10px;font-family:'Liberation Sans',sans-serif;font-weight:bold;fill:#006699">272 million</text>
  </g>
  <g id="text_96">
   <text transform="translate(49.800 454.700) matrix(1.1679 0 0 1.0544 0.074 0.036)" style="font-size:8.10px;font-family:'Liberation Sans',sans-serif;font-weight:bold;fill:#006699">views</text>
  </g>
  <g id="text_97">
   <text transform="translate(387.900 500.800) matrix(1.1985 0 0 1.0544 0.178 0.036)" style="font-size:8.10px;font-family:'Liberation Sans',sans-serif;font-weight:bold;fill:#006699">43 million</text>
  </g>
  <g id="text_98">
   <text transform="translate(396.800 509.500) matrix(1.1679 0 0 1.0544 0.074 0.036)" style="font-size:8.10px;font-family:'Liberation Sans',sans-serif;font-weight:bold;fill:#006699">views</text>
  </g>
  <g id="text_99">
   <text transform="translate(491.600 439.800) matrix(1.1735 0 0 1.0544 0.237 0.054)" style="font-size:12.10px;font-family:'Liberation Sans',sans-serif;font-weight:bold;fill:#000000">Uncorrected</text>
  </g>
  <g id="text_100">
   <text transform="translate(492.000 455.300) matrix(1.1571 0 0 1.0544 0.108 0.052)" style="font-size:11.70px;font-family:'Liberation Sans',sans-serif;font-weight:bold;fill:#000000">videos</text>
  </g>
  <g id="text_101">
   <text transform="translate(604.300 479.600) matrix(1.1732 0 0 1.0544 0.037 0.054)" style="font-size:12.10px;font-family:'Liberation Sans',sans-serif;font-weight:bold;fill:#000000">Corrected</text>
  </g>
  <g id="text_102">
   <text transform="translate(604.700 495.600) matrix(1.1571 0 0 1.0544 0.108 0.052)" style="font-size:11.70px;font-family:'Liberation Sans',sans-serif;font-weight:bold;fill:#000000">videos</text>
  </g>
  <g id="text_103">
   <text transform="translate(561.200 454.800) matrix(1.1091 0 0 1.0634 0.127 0.038)" style="font-size:8.70px;font-family:'Liberation Sans',sans-serif;fill:#000000">21.5%</text>
  </g>
  <g id="text_104">
   <text transform="translate(607.500 512.100) matrix(1.1055 0 0 1.0634 0.215 0.038)" style="font-size:8.70px;font-family:'Liberation Sans',sans-serif;fill:#000000">78.5%</text>
  </g>
 </g>
 <defs>
  <clipPath id="p6a6dacb804">
   <rect x="36.2" y="18.4" width="647.3" height="157.6"/>
  </clipPath>
  <clipPath id="pe976f0630a">
   <rect x="36.1" y="225.5" width="404.4" height="100"/>
  </clipPath>
  <clipPath id="p72668e9a7f">
   <rect x="489.9" y="211.4" width="194.4" height="126"/>
  </clipPath>
  <clipPath id="pd611f2f00b">
   <rect x="36" y="431.5" width="404" height="100.3"/>
  </clipPath>
 </defs>
</svg>

</body></html>
